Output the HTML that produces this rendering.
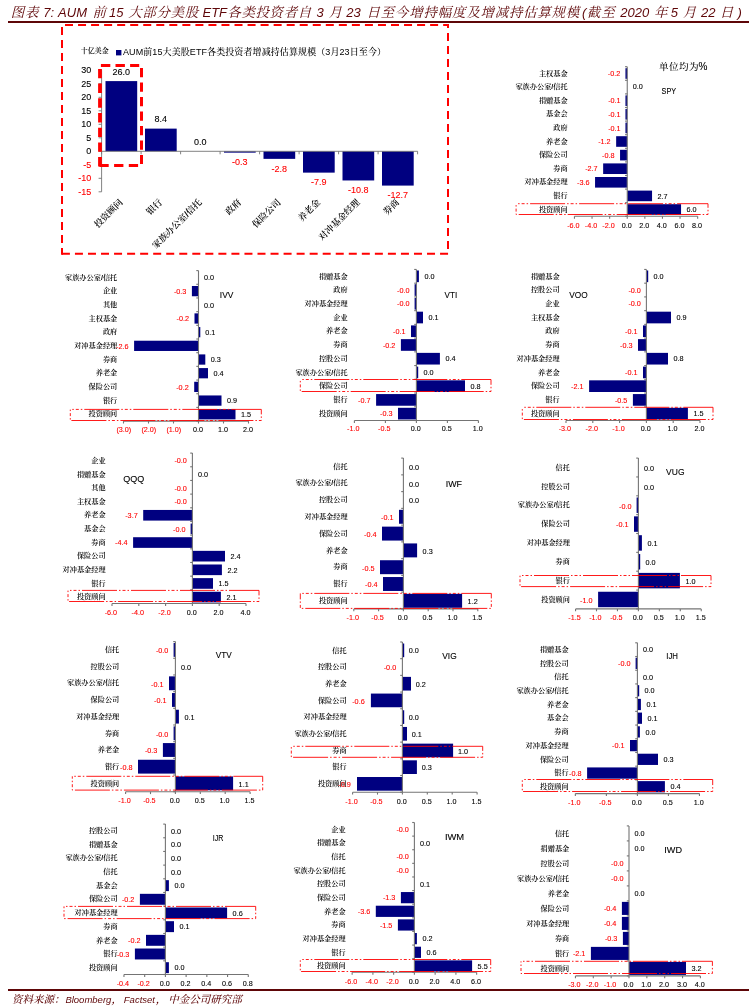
<!DOCTYPE html>
<html lang="zh-CN">
<head>
<meta charset="utf-8">
<title>图表 7</title>
<style>
html,body{margin:0;padding:0;background:#fff;}
body{width:753px;height:1008px;overflow:hidden;}
svg{display:block;}
text{white-space:pre;}
.l{font-family:"Liberation Sans","Noto Sans CJK SC",sans-serif;stroke-width:.1px;}
.c{font-family:"Liberation Sans","Noto Serif CJK SC",serif;font-weight:600;}
.tk{font-family:"Liberation Sans","Noto Sans CJK SC",sans-serif;}
.u{font-family:"Liberation Sans","Noto Serif CJK SC",serif;font-weight:500;}
.lg{font-family:"Liberation Sans","Noto Serif CJK SC",serif;font-weight:500;}
.tc{font-family:"Liberation Serif","Noto Serif CJK SC",serif;font-weight:400;}
.sc{font-family:"Liberation Serif","Noto Serif CJK SC",serif;font-weight:500;}
.tl{font-family:"Liberation Sans","Noto Serif CJK SC",sans-serif;}
</style>
</head>
<body>
<svg width="753" height="1008" viewBox="0 0 753 1008">
<rect x="0" y="0" width="753" height="1008" fill="#fff"/>
<g font-style="italic" fill="#5e0608">
<text x="10.7" y="16.8" font-size="13.5" class="tc" textLength="27.8" lengthAdjust="spacing">图表</text>
<text x="43.2" y="16.6" font-size="13" class="tl" >7:</text>
<text x="58.1" y="16.6" font-size="13" class="tl" >AUM</text>
<text x="92.6" y="16.8" font-size="13.5" class="tc" >前</text>
<text x="109" y="16.6" font-size="13" class="tl" >15</text>
<text x="128.2" y="16.8" font-size="13.5" class="tc" textLength="70" lengthAdjust="spacing">大部分美股</text>
<text x="202.5" y="16.6" font-size="13" class="tl" >ETF</text>
<text x="227.3" y="16.8" font-size="13.5" class="tc" textLength="84" lengthAdjust="spacing">各类投资者自</text>
<text x="316.4" y="16.6" font-size="13" class="tl" >3</text>
<text x="328.4" y="16.8" font-size="13.5" class="tc" >月</text>
<text x="346.3" y="16.6" font-size="13" class="tl" >23</text>
<text x="366.6" y="16.8" font-size="13.5" class="tc" textLength="212.7" lengthAdjust="spacing">日至今增持幅度及增减持估算规模</text>
<text x="581.9" y="16.6" font-size="13" class="tl" >(</text>
<text x="586.7" y="16.8" font-size="13.5" class="tc" textLength="28" lengthAdjust="spacing">截至</text>
<text x="620.3" y="16.6" font-size="13" class="tl" >2020</text>
<text x="653.9" y="16.8" font-size="13.5" class="tc" >年</text>
<text x="670.7" y="16.6" font-size="13" class="tl" >5</text>
<text x="682.8" y="16.8" font-size="13.5" class="tc" >月</text>
<text x="701" y="16.6" font-size="13" class="tl" >22</text>
<text x="719.8" y="16.8" font-size="13.5" class="tc" >日</text>
<text x="737.5" y="16.6" font-size="13" class="tl" >)</text>
</g>
<rect x="8" y="21" width="741" height="2" fill="#5e0608"/>
<g font-style="italic" fill="#5e0608">
<text x="12" y="1003" font-size="10.5" class="sc" >资料来源：</text>
<text x="65.4" y="1002.6" font-size="9.5" class="tl" >Bloomberg</text>
<text x="111.5" y="1003" font-size="10.5" class="sc" >，</text>
<text x="123.8" y="1002.6" font-size="9.5" class="tl" >Factset</text>
<text x="155.8" y="1003" font-size="10.5" class="sc" >，</text>
<text x="168.3" y="1003" font-size="10.5" class="sc" >中金公司研究部</text>
</g>
<rect x="8" y="989" width="741" height="2" fill="#5e0608"/>
<g>
<rect x="105.5" y="81.1" width="31.7" height="70.2" fill="#000080"/>
<rect x="145" y="128.62" width="31.7" height="22.68" fill="#000080"/>
<rect x="224" y="151.3" width="31.7" height="1.35" fill="#000080"/>
<rect x="263.5" y="151.3" width="31.7" height="7.56" fill="#000080"/>
<rect x="303" y="151.3" width="31.7" height="21.33" fill="#000080"/>
<rect x="342.5" y="151.3" width="31.7" height="29.16" fill="#000080"/>
<rect x="382" y="151.3" width="31.7" height="34.29" fill="#000080"/>
<line x1="101.6" y1="70.3" x2="101.6" y2="191.8" stroke="#747474" stroke-width="0.9"/>
<line x1="98.6" y1="191.8" x2="101.6" y2="191.8" stroke="#747474" stroke-width="0.9"/>
<text x="91.3" y="194.62" font-size="9" text-anchor="end" fill="#ff0000" stroke="#ff0000" class="l">-15</text>
<line x1="98.6" y1="178.3" x2="101.6" y2="178.3" stroke="#747474" stroke-width="0.9"/>
<text x="91.3" y="181.12" font-size="9" text-anchor="end" fill="#ff0000" stroke="#ff0000" class="l">-10</text>
<line x1="98.6" y1="164.8" x2="101.6" y2="164.8" stroke="#747474" stroke-width="0.9"/>
<text x="91.3" y="167.62" font-size="9" text-anchor="end" fill="#ff0000" stroke="#ff0000" class="l">-5</text>
<line x1="98.6" y1="151.3" x2="101.6" y2="151.3" stroke="#747474" stroke-width="0.9"/>
<text x="91.3" y="154.12" font-size="9" text-anchor="end" fill="#000" stroke="#000" class="l">0</text>
<line x1="98.6" y1="137.8" x2="101.6" y2="137.8" stroke="#747474" stroke-width="0.9"/>
<text x="91.3" y="140.62" font-size="9" text-anchor="end" fill="#000" stroke="#000" class="l">5</text>
<line x1="98.6" y1="124.3" x2="101.6" y2="124.3" stroke="#747474" stroke-width="0.9"/>
<text x="91.3" y="127.12" font-size="9" text-anchor="end" fill="#000" stroke="#000" class="l">10</text>
<line x1="98.6" y1="110.8" x2="101.6" y2="110.8" stroke="#747474" stroke-width="0.9"/>
<text x="91.3" y="113.62" font-size="9" text-anchor="end" fill="#000" stroke="#000" class="l">15</text>
<line x1="98.6" y1="97.3" x2="101.6" y2="97.3" stroke="#747474" stroke-width="0.9"/>
<text x="91.3" y="100.12" font-size="9" text-anchor="end" fill="#000" stroke="#000" class="l">20</text>
<line x1="98.6" y1="83.8" x2="101.6" y2="83.8" stroke="#747474" stroke-width="0.9"/>
<text x="91.3" y="86.62" font-size="9" text-anchor="end" fill="#000" stroke="#000" class="l">25</text>
<line x1="98.6" y1="70.3" x2="101.6" y2="70.3" stroke="#747474" stroke-width="0.9"/>
<text x="91.3" y="73.12" font-size="9" text-anchor="end" fill="#000" stroke="#000" class="l">30</text>
<line x1="101.6" y1="151.3" x2="417.6" y2="151.3" stroke="#747474" stroke-width="0.9"/>
<line x1="101.6" y1="151.3" x2="101.6" y2="154.3" stroke="#747474" stroke-width="0.9"/>
<line x1="141.1" y1="151.3" x2="141.1" y2="154.3" stroke="#747474" stroke-width="0.9"/>
<line x1="180.6" y1="151.3" x2="180.6" y2="154.3" stroke="#747474" stroke-width="0.9"/>
<line x1="220.1" y1="151.3" x2="220.1" y2="154.3" stroke="#747474" stroke-width="0.9"/>
<line x1="259.6" y1="151.3" x2="259.6" y2="154.3" stroke="#747474" stroke-width="0.9"/>
<line x1="299.1" y1="151.3" x2="299.1" y2="154.3" stroke="#747474" stroke-width="0.9"/>
<line x1="338.6" y1="151.3" x2="338.6" y2="154.3" stroke="#747474" stroke-width="0.9"/>
<line x1="378.1" y1="151.3" x2="378.1" y2="154.3" stroke="#747474" stroke-width="0.9"/>
<line x1="417.6" y1="151.3" x2="417.6" y2="154.3" stroke="#747474" stroke-width="0.9"/>
<text x="121.35" y="74.92" font-size="9" text-anchor="middle" fill="#000" stroke="#000" class="l">26.0</text>
<text transform="translate(123.35 202.8) rotate(-45)" x="0" y="0" font-size="9" text-anchor="end" class="c" fill="#000">投资顾问</text>
<text x="160.85" y="122.44" font-size="9" text-anchor="middle" fill="#000" stroke="#000" class="l">8.4</text>
<text transform="translate(162.85 202.8) rotate(-45)" x="0" y="0" font-size="9" text-anchor="end" class="c" fill="#000">银行</text>
<text x="200.35" y="145.12" font-size="9" text-anchor="middle" fill="#000" stroke="#000" class="l">0.0</text>
<text transform="translate(202.35 202.8) rotate(-45)" x="0" y="0" font-size="9" text-anchor="end" class="c" fill="#000">家族办公室/信托</text>
<text x="239.85" y="165.47" font-size="9" text-anchor="middle" fill="#ff0000" stroke="#ff0000" class="l">-0.3</text>
<text transform="translate(241.85 202.8) rotate(-45)" x="0" y="0" font-size="9" text-anchor="end" class="c" fill="#000">政府</text>
<text x="279.35" y="171.68" font-size="9" text-anchor="middle" fill="#ff0000" stroke="#ff0000" class="l">-2.8</text>
<text transform="translate(281.35 202.8) rotate(-45)" x="0" y="0" font-size="9" text-anchor="end" class="c" fill="#000">保险公司</text>
<text x="318.85" y="185.45" font-size="9" text-anchor="middle" fill="#ff0000" stroke="#ff0000" class="l">-7.9</text>
<text transform="translate(320.85 202.8) rotate(-45)" x="0" y="0" font-size="9" text-anchor="end" class="c" fill="#000">养老金</text>
<text x="358.35" y="193.28" font-size="9" text-anchor="middle" fill="#ff0000" stroke="#ff0000" class="l">-10.8</text>
<text transform="translate(360.35 202.8) rotate(-45)" x="0" y="0" font-size="9" text-anchor="end" class="c" fill="#000">对冲基金经理</text>
<text x="397.85" y="198.41" font-size="9" text-anchor="middle" fill="#ff0000" stroke="#ff0000" class="l">-12.7</text>
<text transform="translate(399.85 202.8) rotate(-45)" x="0" y="0" font-size="9" text-anchor="end" class="c" fill="#000">券商</text>
<text x="80.8" y="53.02" font-size="7" text-anchor="start" fill="#000" class="c">十亿美金</text>
<rect x="116" y="50" width="5.4" height="5.4" fill="#000080"/>
<text x="123" y="55.42" font-size="9" text-anchor="start" fill="#000" class="lg" textLength="263" lengthAdjust="spacing">AUM前15大美股ETF各类投资者增减持估算规模（3月23日至今）</text>
<line x1="100.9" y1="65.5" x2="139.2" y2="65.5" stroke="#ff0000" stroke-width="3" stroke-dasharray="9.4 5.2" stroke-dashoffset="0"/>
<line x1="141.5" y1="68.1" x2="141.5" y2="164" stroke="#ff0000" stroke-width="3" stroke-dasharray="9.2 5.3" stroke-dashoffset="0"/>
<line x1="100" y1="68.9" x2="100" y2="167" stroke="#ff0000" stroke-width="3.8" stroke-dasharray="9.4 5.3" stroke-dashoffset="0"/>
<line x1="98.1" y1="165.5" x2="138.2" y2="165.5" stroke="#ff0000" stroke-width="3" stroke-dasharray="9.3 5.4" stroke-dashoffset="13.4"/>
<line x1="65" y1="25" x2="449" y2="25" stroke="#ff0000" stroke-width="2" stroke-dasharray="8 5.04" stroke-dashoffset="0"/>
<line x1="448" y1="24" x2="448" y2="249.2" stroke="#ff0000" stroke-width="2" stroke-dasharray="8 5" stroke-dashoffset="4.1"/>
<line x1="61" y1="253.8" x2="448.4" y2="253.8" stroke="#ff0000" stroke-width="2" stroke-dasharray="8 5.04" stroke-dashoffset="12.14"/>
<line x1="62" y1="27" x2="62" y2="254.8" stroke="#ff0000" stroke-width="2" stroke-dasharray="8 5" stroke-dashoffset="0"/>
</g>
<text x="659" y="70.2" font-size="9.6" fill="#000" class="u"><tspan textLength="39.6" lengthAdjust="spacing">单位均为</tspan><tspan x="698.6" font-size="10" class="l" stroke="#000">%</tspan></text>
<g>
<rect x="625.45" y="68.2" width="1.8" height="10.61" fill="#000080"/>
<rect x="625.45" y="95.4" width="1.8" height="10.61" fill="#000080"/>
<rect x="625.45" y="109" width="1.8" height="10.61" fill="#000080"/>
<rect x="625.45" y="122.6" width="1.8" height="10.61" fill="#000080"/>
<rect x="616.15" y="136.2" width="11.1" height="10.61" fill="#000080"/>
<rect x="620.05" y="149.8" width="7.2" height="10.61" fill="#000080"/>
<rect x="603.15" y="163.4" width="24.1" height="10.61" fill="#000080"/>
<rect x="595.05" y="177" width="32.2" height="10.61" fill="#000080"/>
<rect x="627.25" y="190.6" width="24.8" height="10.61" fill="#000080"/>
<rect x="627.25" y="204.2" width="53.8" height="10.61" fill="#000080"/>
<line x1="627.25" y1="66.7" x2="627.25" y2="216.3" stroke="#747474" stroke-width="1.1"/>
<line x1="625.05" y1="66.7" x2="627.25" y2="66.7" stroke="#747474" stroke-width="1.1"/>
<line x1="625.05" y1="80.3" x2="627.25" y2="80.3" stroke="#747474" stroke-width="1.1"/>
<line x1="625.05" y1="93.9" x2="627.25" y2="93.9" stroke="#747474" stroke-width="1.1"/>
<line x1="625.05" y1="107.5" x2="627.25" y2="107.5" stroke="#747474" stroke-width="1.1"/>
<line x1="625.05" y1="121.1" x2="627.25" y2="121.1" stroke="#747474" stroke-width="1.1"/>
<line x1="625.05" y1="134.7" x2="627.25" y2="134.7" stroke="#747474" stroke-width="1.1"/>
<line x1="625.05" y1="148.3" x2="627.25" y2="148.3" stroke="#747474" stroke-width="1.1"/>
<line x1="625.05" y1="161.9" x2="627.25" y2="161.9" stroke="#747474" stroke-width="1.1"/>
<line x1="625.05" y1="175.5" x2="627.25" y2="175.5" stroke="#747474" stroke-width="1.1"/>
<line x1="625.05" y1="189.1" x2="627.25" y2="189.1" stroke="#747474" stroke-width="1.1"/>
<line x1="625.05" y1="202.7" x2="627.25" y2="202.7" stroke="#747474" stroke-width="1.1"/>
<line x1="625.05" y1="216.3" x2="627.25" y2="216.3" stroke="#747474" stroke-width="1.1"/>
<line x1="574.45" y1="216.3" x2="697.65" y2="216.3" stroke="#747474" stroke-width="1.1"/>
<line x1="574.45" y1="216.3" x2="574.45" y2="218.7" stroke="#747474" stroke-width="1.1"/>
<text x="573.35" y="227.98" font-size="7.2" text-anchor="middle" fill="#ff0000" stroke="#ff0000" class="l">-6.0</text>
<line x1="592.05" y1="216.3" x2="592.05" y2="218.7" stroke="#747474" stroke-width="1.1"/>
<text x="590.95" y="227.98" font-size="7.2" text-anchor="middle" fill="#ff0000" stroke="#ff0000" class="l">-4.0</text>
<line x1="609.65" y1="216.3" x2="609.65" y2="218.7" stroke="#747474" stroke-width="1.1"/>
<text x="608.55" y="227.98" font-size="7.2" text-anchor="middle" fill="#ff0000" stroke="#ff0000" class="l">-2.0</text>
<line x1="627.25" y1="216.3" x2="627.25" y2="218.7" stroke="#747474" stroke-width="1.1"/>
<text x="626.65" y="227.98" font-size="7.2" text-anchor="middle" fill="#000" stroke="#000" class="l">0.0</text>
<line x1="644.85" y1="216.3" x2="644.85" y2="218.7" stroke="#747474" stroke-width="1.1"/>
<text x="644.25" y="227.98" font-size="7.2" text-anchor="middle" fill="#000" stroke="#000" class="l">2.0</text>
<line x1="662.45" y1="216.3" x2="662.45" y2="218.7" stroke="#747474" stroke-width="1.1"/>
<text x="661.85" y="227.98" font-size="7.2" text-anchor="middle" fill="#000" stroke="#000" class="l">4.0</text>
<line x1="680.05" y1="216.3" x2="680.05" y2="218.7" stroke="#747474" stroke-width="1.1"/>
<text x="679.45" y="227.98" font-size="7.2" text-anchor="middle" fill="#000" stroke="#000" class="l">6.0</text>
<line x1="697.65" y1="216.3" x2="697.65" y2="218.7" stroke="#747474" stroke-width="1.1"/>
<text x="697.05" y="227.98" font-size="7.2" text-anchor="middle" fill="#000" stroke="#000" class="l">8.0</text>
<text x="567.7" y="75.69" font-size="7.2" text-anchor="end" fill="#000" class="c">主权基金</text>
<text x="620.35" y="76.2" font-size="7.25" text-anchor="end" fill="#ff0000" stroke="#ff0000" class="l">-0.2</text>
<text x="567.7" y="89.29" font-size="7.2" text-anchor="end" fill="#000" class="c">家族办公室/信托</text>
<text x="632.75" y="88.8" font-size="7.25" text-anchor="start" fill="#000" stroke="#000" class="l">0.0</text>
<text x="567.7" y="102.89" font-size="7.2" text-anchor="end" fill="#000" class="c">捐赠基金</text>
<text x="620.65" y="103.4" font-size="7.25" text-anchor="end" fill="#ff0000" stroke="#ff0000" class="l">-0.1</text>
<text x="567.7" y="116.49" font-size="7.2" text-anchor="end" fill="#000" class="c">基金会</text>
<text x="620.65" y="117" font-size="7.25" text-anchor="end" fill="#ff0000" stroke="#ff0000" class="l">-0.1</text>
<text x="567.7" y="130.09" font-size="7.2" text-anchor="end" fill="#000" class="c">政府</text>
<text x="620.65" y="130.6" font-size="7.25" text-anchor="end" fill="#ff0000" stroke="#ff0000" class="l">-0.1</text>
<text x="567.7" y="143.69" font-size="7.2" text-anchor="end" fill="#000" class="c">养老金</text>
<text x="610.65" y="144.2" font-size="7.25" text-anchor="end" fill="#ff0000" stroke="#ff0000" class="l">-1.2</text>
<text x="567.7" y="157.29" font-size="7.2" text-anchor="end" fill="#000" class="c">保险公司</text>
<text x="614.55" y="157.8" font-size="7.25" text-anchor="end" fill="#ff0000" stroke="#ff0000" class="l">-0.8</text>
<text x="567.7" y="170.89" font-size="7.2" text-anchor="end" fill="#000" class="c">券商</text>
<text x="597.65" y="171.4" font-size="7.25" text-anchor="end" fill="#ff0000" stroke="#ff0000" class="l">-2.7</text>
<text x="567.7" y="184.49" font-size="7.2" text-anchor="end" fill="#000" class="c">对冲基金经理</text>
<text x="589.55" y="185" font-size="7.25" text-anchor="end" fill="#ff0000" stroke="#ff0000" class="l">-3.6</text>
<text x="567.7" y="198.09" font-size="7.2" text-anchor="end" fill="#000" class="c">银行</text>
<text x="657.55" y="198.6" font-size="7.25" text-anchor="start" fill="#000" stroke="#000" class="l">2.7</text>
<text x="567.7" y="211.69" font-size="7.2" text-anchor="end" fill="#000" class="c">投资顾问</text>
<text x="686.55" y="212.2" font-size="7.25" text-anchor="start" fill="#000" stroke="#000" class="l">6.0</text>
<rect x="516.1" y="203.7" width="191.9" height="10.8" fill="none" stroke="#ff0000" stroke-width="0.9" stroke-dasharray="35 2 1.5 2 3 2 1.5 2" stroke-dashoffset="35"/>
<text x="661.6" y="93.94" font-size="8.5" text-anchor="start" fill="#000" stroke="#000" class="l" textLength="14.6" lengthAdjust="spacingAndGlyphs">SPY</text>
</g>
<g>
<rect x="191.9" y="285.99" width="6.6" height="10.26" fill="#000080"/>
<rect x="194.5" y="313.36" width="4" height="10.26" fill="#000080"/>
<rect x="198.5" y="327.04" width="1.8" height="10.26" fill="#000080"/>
<rect x="134.1" y="340.72" width="64.4" height="10.26" fill="#000080"/>
<rect x="198.5" y="354.4" width="6.8" height="10.26" fill="#000080"/>
<rect x="198.5" y="368.08" width="9.5" height="10.26" fill="#000080"/>
<rect x="194.2" y="381.76" width="4.3" height="10.26" fill="#000080"/>
<rect x="198.5" y="395.45" width="23" height="10.26" fill="#000080"/>
<rect x="198.5" y="409.13" width="37" height="10.26" fill="#000080"/>
<line x1="198.5" y1="270.6" x2="198.5" y2="421.1" stroke="#747474" stroke-width="1.1"/>
<line x1="196.3" y1="270.6" x2="198.5" y2="270.6" stroke="#747474" stroke-width="1.1"/>
<line x1="196.3" y1="284.28" x2="198.5" y2="284.28" stroke="#747474" stroke-width="1.1"/>
<line x1="196.3" y1="297.96" x2="198.5" y2="297.96" stroke="#747474" stroke-width="1.1"/>
<line x1="196.3" y1="311.65" x2="198.5" y2="311.65" stroke="#747474" stroke-width="1.1"/>
<line x1="196.3" y1="325.33" x2="198.5" y2="325.33" stroke="#747474" stroke-width="1.1"/>
<line x1="196.3" y1="339.01" x2="198.5" y2="339.01" stroke="#747474" stroke-width="1.1"/>
<line x1="196.3" y1="352.69" x2="198.5" y2="352.69" stroke="#747474" stroke-width="1.1"/>
<line x1="196.3" y1="366.37" x2="198.5" y2="366.37" stroke="#747474" stroke-width="1.1"/>
<line x1="196.3" y1="380.05" x2="198.5" y2="380.05" stroke="#747474" stroke-width="1.1"/>
<line x1="196.3" y1="393.74" x2="198.5" y2="393.74" stroke="#747474" stroke-width="1.1"/>
<line x1="196.3" y1="407.42" x2="198.5" y2="407.42" stroke="#747474" stroke-width="1.1"/>
<line x1="196.3" y1="421.1" x2="198.5" y2="421.1" stroke="#747474" stroke-width="1.1"/>
<line x1="123.5" y1="421.1" x2="248.5" y2="421.1" stroke="#747474" stroke-width="1.1"/>
<line x1="123.5" y1="421.1" x2="123.5" y2="423.5" stroke="#747474" stroke-width="1.1"/>
<text x="123.8" y="431.98" font-size="7.2" text-anchor="middle" fill="#ff0000" stroke="#ff0000" class="l">(3.0)</text>
<line x1="148.5" y1="421.1" x2="148.5" y2="423.5" stroke="#747474" stroke-width="1.1"/>
<text x="148.8" y="431.98" font-size="7.2" text-anchor="middle" fill="#ff0000" stroke="#ff0000" class="l">(2.0)</text>
<line x1="173.5" y1="421.1" x2="173.5" y2="423.5" stroke="#747474" stroke-width="1.1"/>
<text x="173.8" y="431.98" font-size="7.2" text-anchor="middle" fill="#ff0000" stroke="#ff0000" class="l">(1.0)</text>
<line x1="198.5" y1="421.1" x2="198.5" y2="423.5" stroke="#747474" stroke-width="1.1"/>
<text x="197.9" y="431.98" font-size="7.2" text-anchor="middle" fill="#000" stroke="#000" class="l">0.0</text>
<line x1="223.5" y1="421.1" x2="223.5" y2="423.5" stroke="#747474" stroke-width="1.1"/>
<text x="222.9" y="431.98" font-size="7.2" text-anchor="middle" fill="#000" stroke="#000" class="l">1.0</text>
<line x1="248.5" y1="421.1" x2="248.5" y2="423.5" stroke="#747474" stroke-width="1.1"/>
<text x="247.9" y="431.98" font-size="7.2" text-anchor="middle" fill="#000" stroke="#000" class="l">2.0</text>
<text x="117.3" y="279.63" font-size="7.2" text-anchor="end" fill="#000" class="c">家族办公室/信托</text>
<text x="204" y="280.14" font-size="7.25" text-anchor="start" fill="#000" stroke="#000" class="l">0.0</text>
<text x="117.3" y="293.31" font-size="7.2" text-anchor="end" fill="#000" class="c">企业</text>
<text x="186.4" y="293.82" font-size="7.25" text-anchor="end" fill="#ff0000" stroke="#ff0000" class="l">-0.3</text>
<text x="117.3" y="307" font-size="7.2" text-anchor="end" fill="#000" class="c">其他</text>
<text x="204" y="307.5" font-size="7.25" text-anchor="start" fill="#000" stroke="#000" class="l">0.0</text>
<text x="117.3" y="320.68" font-size="7.2" text-anchor="end" fill="#000" class="c">主权基金</text>
<text x="189" y="321.18" font-size="7.25" text-anchor="end" fill="#ff0000" stroke="#ff0000" class="l">-0.2</text>
<text x="117.3" y="334.36" font-size="7.2" text-anchor="end" fill="#000" class="c">政府</text>
<text x="205.3" y="334.86" font-size="7.25" text-anchor="start" fill="#000" stroke="#000" class="l">0.1</text>
<text x="117.3" y="348.04" font-size="7.2" text-anchor="end" fill="#000" class="c">对冲基金经理</text>
<text x="128.6" y="348.55" font-size="7.25" text-anchor="end" fill="#ff0000" stroke="#ff0000" class="l">-2.6</text>
<text x="117.3" y="361.72" font-size="7.2" text-anchor="end" fill="#000" class="c">券商</text>
<text x="210.8" y="362.23" font-size="7.25" text-anchor="start" fill="#000" stroke="#000" class="l">0.3</text>
<text x="117.3" y="375.41" font-size="7.2" text-anchor="end" fill="#000" class="c">养老金</text>
<text x="213.5" y="375.91" font-size="7.25" text-anchor="start" fill="#000" stroke="#000" class="l">0.4</text>
<text x="117.3" y="389.09" font-size="7.2" text-anchor="end" fill="#000" class="c">保险公司</text>
<text x="188.7" y="389.59" font-size="7.25" text-anchor="end" fill="#ff0000" stroke="#ff0000" class="l">-0.2</text>
<text x="117.3" y="402.77" font-size="7.2" text-anchor="end" fill="#000" class="c">银行</text>
<text x="227" y="403.27" font-size="7.25" text-anchor="start" fill="#000" stroke="#000" class="l">0.9</text>
<text x="117.3" y="416.45" font-size="7.2" text-anchor="end" fill="#000" class="c">投资顾问</text>
<text x="241" y="416.95" font-size="7.25" text-anchor="start" fill="#000" stroke="#000" class="l">1.5</text>
<rect x="70.3" y="409.4" width="191" height="11.1" fill="none" stroke="#ff0000" stroke-width="0.9" stroke-dasharray="35 2 1.5 2 3 2 1.5 2" stroke-dashoffset="35"/>
<text x="219.8" y="298.24" font-size="8.5" text-anchor="start" fill="#000" stroke="#000" class="l" textLength="13.6" lengthAdjust="spacingAndGlyphs">IVV</text>
</g>
<g>
<rect x="416.4" y="270.48" width="2.5" height="11.67" fill="#000080"/>
<rect x="414.6" y="284.21" width="1.8" height="11.67" fill="#000080"/>
<rect x="414.6" y="297.94" width="1.8" height="11.67" fill="#000080"/>
<rect x="416.4" y="311.68" width="6.6" height="11.67" fill="#000080"/>
<rect x="411" y="325.41" width="5.4" height="11.67" fill="#000080"/>
<rect x="400.9" y="339.14" width="15.5" height="11.67" fill="#000080"/>
<rect x="416.4" y="352.87" width="23.5" height="11.67" fill="#000080"/>
<rect x="416.4" y="366.6" width="1.8" height="11.67" fill="#000080"/>
<rect x="416.4" y="380.33" width="48.6" height="11.67" fill="#000080"/>
<rect x="376.1" y="394.07" width="40.3" height="11.67" fill="#000080"/>
<rect x="398" y="407.8" width="18.4" height="11.67" fill="#000080"/>
<line x1="416.4" y1="269.45" x2="416.4" y2="420.5" stroke="#747474" stroke-width="1.1"/>
<line x1="414.2" y1="269.45" x2="416.4" y2="269.45" stroke="#747474" stroke-width="1.1"/>
<line x1="414.2" y1="283.18" x2="416.4" y2="283.18" stroke="#747474" stroke-width="1.1"/>
<line x1="414.2" y1="296.91" x2="416.4" y2="296.91" stroke="#747474" stroke-width="1.1"/>
<line x1="414.2" y1="310.65" x2="416.4" y2="310.65" stroke="#747474" stroke-width="1.1"/>
<line x1="414.2" y1="324.38" x2="416.4" y2="324.38" stroke="#747474" stroke-width="1.1"/>
<line x1="414.2" y1="338.11" x2="416.4" y2="338.11" stroke="#747474" stroke-width="1.1"/>
<line x1="414.2" y1="351.84" x2="416.4" y2="351.84" stroke="#747474" stroke-width="1.1"/>
<line x1="414.2" y1="365.57" x2="416.4" y2="365.57" stroke="#747474" stroke-width="1.1"/>
<line x1="414.2" y1="379.3" x2="416.4" y2="379.3" stroke="#747474" stroke-width="1.1"/>
<line x1="414.2" y1="393.04" x2="416.4" y2="393.04" stroke="#747474" stroke-width="1.1"/>
<line x1="414.2" y1="406.77" x2="416.4" y2="406.77" stroke="#747474" stroke-width="1.1"/>
<line x1="414.2" y1="420.5" x2="416.4" y2="420.5" stroke="#747474" stroke-width="1.1"/>
<line x1="354.4" y1="420.5" x2="478.4" y2="420.5" stroke="#747474" stroke-width="1.1"/>
<line x1="354.4" y1="420.5" x2="354.4" y2="422.9" stroke="#747474" stroke-width="1.1"/>
<text x="353.3" y="431.28" font-size="7.2" text-anchor="middle" fill="#ff0000" stroke="#ff0000" class="l">-1.0</text>
<line x1="385.4" y1="420.5" x2="385.4" y2="422.9" stroke="#747474" stroke-width="1.1"/>
<text x="384.3" y="431.28" font-size="7.2" text-anchor="middle" fill="#ff0000" stroke="#ff0000" class="l">-0.5</text>
<line x1="416.4" y1="420.5" x2="416.4" y2="422.9" stroke="#747474" stroke-width="1.1"/>
<text x="415.8" y="431.28" font-size="7.2" text-anchor="middle" fill="#000" stroke="#000" class="l">0.0</text>
<line x1="447.4" y1="420.5" x2="447.4" y2="422.9" stroke="#747474" stroke-width="1.1"/>
<text x="446.8" y="431.28" font-size="7.2" text-anchor="middle" fill="#000" stroke="#000" class="l">0.5</text>
<line x1="478.4" y1="420.5" x2="478.4" y2="422.9" stroke="#747474" stroke-width="1.1"/>
<text x="477.8" y="431.28" font-size="7.2" text-anchor="middle" fill="#000" stroke="#000" class="l">1.0</text>
<text x="347.7" y="278.51" font-size="7.2" text-anchor="end" fill="#000" class="c">捐赠基金</text>
<text x="424.4" y="279.01" font-size="7.25" text-anchor="start" fill="#000" stroke="#000" class="l">0.0</text>
<text x="347.7" y="292.24" font-size="7.2" text-anchor="end" fill="#000" class="c">政府</text>
<text x="409.6" y="292.74" font-size="7.25" text-anchor="end" fill="#ff0000" stroke="#ff0000" class="l">-0.0</text>
<text x="347.7" y="305.97" font-size="7.2" text-anchor="end" fill="#000" class="c">对冲基金经理</text>
<text x="409.6" y="306.48" font-size="7.25" text-anchor="end" fill="#ff0000" stroke="#ff0000" class="l">-0.0</text>
<text x="347.7" y="319.7" font-size="7.2" text-anchor="end" fill="#000" class="c">企业</text>
<text x="428.5" y="320.21" font-size="7.25" text-anchor="start" fill="#000" stroke="#000" class="l">0.1</text>
<text x="347.7" y="333.44" font-size="7.2" text-anchor="end" fill="#000" class="c">养老金</text>
<text x="405.5" y="333.94" font-size="7.25" text-anchor="end" fill="#ff0000" stroke="#ff0000" class="l">-0.1</text>
<text x="347.7" y="347.17" font-size="7.2" text-anchor="end" fill="#000" class="c">券商</text>
<text x="395.4" y="347.67" font-size="7.25" text-anchor="end" fill="#ff0000" stroke="#ff0000" class="l">-0.2</text>
<text x="347.7" y="360.9" font-size="7.2" text-anchor="end" fill="#000" class="c">控股公司</text>
<text x="445.4" y="361.4" font-size="7.25" text-anchor="start" fill="#000" stroke="#000" class="l">0.4</text>
<text x="347.7" y="374.63" font-size="7.2" text-anchor="end" fill="#000" class="c">家族办公室/信托</text>
<text x="423.4" y="375.13" font-size="7.25" text-anchor="start" fill="#000" stroke="#000" class="l">0.0</text>
<text x="347.7" y="388.36" font-size="7.2" text-anchor="end" fill="#000" class="c">保险公司</text>
<text x="470.5" y="388.87" font-size="7.25" text-anchor="start" fill="#000" stroke="#000" class="l">0.8</text>
<text x="347.7" y="402.09" font-size="7.2" text-anchor="end" fill="#000" class="c">银行</text>
<text x="370.6" y="402.6" font-size="7.25" text-anchor="end" fill="#ff0000" stroke="#ff0000" class="l">-0.7</text>
<text x="347.7" y="415.83" font-size="7.2" text-anchor="end" fill="#000" class="c">投资顾问</text>
<text x="392.5" y="416.33" font-size="7.25" text-anchor="end" fill="#ff0000" stroke="#ff0000" class="l">-0.3</text>
<rect x="300.3" y="379.5" width="190.7" height="12" fill="none" stroke="#ff0000" stroke-width="0.9" stroke-dasharray="35 2 1.5 2 3 2 1.5 2" stroke-dashoffset="35"/>
<text x="444.6" y="297.94" font-size="8.5" text-anchor="start" fill="#000" stroke="#000" class="l" textLength="12.6" lengthAdjust="spacingAndGlyphs">VTI</text>
</g>
<g>
<rect x="646.4" y="270.48" width="1.8" height="11.67" fill="#000080"/>
<rect x="646.4" y="311.68" width="24.6" height="11.67" fill="#000080"/>
<rect x="643" y="325.41" width="3.4" height="11.67" fill="#000080"/>
<rect x="638" y="339.14" width="8.4" height="11.67" fill="#000080"/>
<rect x="646.4" y="352.87" width="21.6" height="11.67" fill="#000080"/>
<rect x="643" y="366.6" width="3.4" height="11.67" fill="#000080"/>
<rect x="589.1" y="380.33" width="57.3" height="11.67" fill="#000080"/>
<rect x="632.9" y="394.07" width="13.5" height="11.67" fill="#000080"/>
<rect x="646.4" y="407.8" width="41.5" height="11.67" fill="#000080"/>
<line x1="646.4" y1="269.45" x2="646.4" y2="420.5" stroke="#747474" stroke-width="1.1"/>
<line x1="644.2" y1="269.45" x2="646.4" y2="269.45" stroke="#747474" stroke-width="1.1"/>
<line x1="644.2" y1="283.18" x2="646.4" y2="283.18" stroke="#747474" stroke-width="1.1"/>
<line x1="644.2" y1="296.91" x2="646.4" y2="296.91" stroke="#747474" stroke-width="1.1"/>
<line x1="644.2" y1="310.65" x2="646.4" y2="310.65" stroke="#747474" stroke-width="1.1"/>
<line x1="644.2" y1="324.38" x2="646.4" y2="324.38" stroke="#747474" stroke-width="1.1"/>
<line x1="644.2" y1="338.11" x2="646.4" y2="338.11" stroke="#747474" stroke-width="1.1"/>
<line x1="644.2" y1="351.84" x2="646.4" y2="351.84" stroke="#747474" stroke-width="1.1"/>
<line x1="644.2" y1="365.57" x2="646.4" y2="365.57" stroke="#747474" stroke-width="1.1"/>
<line x1="644.2" y1="379.3" x2="646.4" y2="379.3" stroke="#747474" stroke-width="1.1"/>
<line x1="644.2" y1="393.04" x2="646.4" y2="393.04" stroke="#747474" stroke-width="1.1"/>
<line x1="644.2" y1="406.77" x2="646.4" y2="406.77" stroke="#747474" stroke-width="1.1"/>
<line x1="644.2" y1="420.5" x2="646.4" y2="420.5" stroke="#747474" stroke-width="1.1"/>
<line x1="566" y1="420.5" x2="700" y2="420.5" stroke="#747474" stroke-width="1.1"/>
<line x1="566" y1="420.5" x2="566" y2="422.9" stroke="#747474" stroke-width="1.1"/>
<text x="564.9" y="431.28" font-size="7.2" text-anchor="middle" fill="#ff0000" stroke="#ff0000" class="l">-3.0</text>
<line x1="592.8" y1="420.5" x2="592.8" y2="422.9" stroke="#747474" stroke-width="1.1"/>
<text x="591.7" y="431.28" font-size="7.2" text-anchor="middle" fill="#ff0000" stroke="#ff0000" class="l">-2.0</text>
<line x1="619.6" y1="420.5" x2="619.6" y2="422.9" stroke="#747474" stroke-width="1.1"/>
<text x="618.5" y="431.28" font-size="7.2" text-anchor="middle" fill="#ff0000" stroke="#ff0000" class="l">-1.0</text>
<line x1="646.4" y1="420.5" x2="646.4" y2="422.9" stroke="#747474" stroke-width="1.1"/>
<text x="645.8" y="431.28" font-size="7.2" text-anchor="middle" fill="#000" stroke="#000" class="l">0.0</text>
<line x1="673.2" y1="420.5" x2="673.2" y2="422.9" stroke="#747474" stroke-width="1.1"/>
<text x="672.6" y="431.28" font-size="7.2" text-anchor="middle" fill="#000" stroke="#000" class="l">1.0</text>
<line x1="700" y1="420.5" x2="700" y2="422.9" stroke="#747474" stroke-width="1.1"/>
<text x="699.4" y="431.28" font-size="7.2" text-anchor="middle" fill="#000" stroke="#000" class="l">2.0</text>
<text x="559.7" y="278.51" font-size="7.2" text-anchor="end" fill="#000" class="c">捐赠基金</text>
<text x="653.4" y="279.01" font-size="7.25" text-anchor="start" fill="#000" stroke="#000" class="l">0.0</text>
<text x="559.7" y="292.24" font-size="7.2" text-anchor="end" fill="#000" class="c">控股公司</text>
<text x="640.9" y="292.74" font-size="7.25" text-anchor="end" fill="#ff0000" stroke="#ff0000" class="l">-0.0</text>
<text x="559.7" y="305.97" font-size="7.2" text-anchor="end" fill="#000" class="c">企业</text>
<text x="640.9" y="306.48" font-size="7.25" text-anchor="end" fill="#ff0000" stroke="#ff0000" class="l">-0.0</text>
<text x="559.7" y="319.7" font-size="7.2" text-anchor="end" fill="#000" class="c">主权基金</text>
<text x="676.5" y="320.21" font-size="7.25" text-anchor="start" fill="#000" stroke="#000" class="l">0.9</text>
<text x="559.7" y="333.44" font-size="7.2" text-anchor="end" fill="#000" class="c">政府</text>
<text x="637.5" y="333.94" font-size="7.25" text-anchor="end" fill="#ff0000" stroke="#ff0000" class="l">-0.1</text>
<text x="559.7" y="347.17" font-size="7.2" text-anchor="end" fill="#000" class="c">券商</text>
<text x="632.5" y="347.67" font-size="7.25" text-anchor="end" fill="#ff0000" stroke="#ff0000" class="l">-0.3</text>
<text x="559.7" y="360.9" font-size="7.2" text-anchor="end" fill="#000" class="c">对冲基金经理</text>
<text x="673.5" y="361.4" font-size="7.25" text-anchor="start" fill="#000" stroke="#000" class="l">0.8</text>
<text x="559.7" y="374.63" font-size="7.2" text-anchor="end" fill="#000" class="c">养老金</text>
<text x="637.5" y="375.13" font-size="7.25" text-anchor="end" fill="#ff0000" stroke="#ff0000" class="l">-0.1</text>
<text x="559.7" y="388.36" font-size="7.2" text-anchor="end" fill="#000" class="c">保险公司</text>
<text x="583.6" y="388.87" font-size="7.25" text-anchor="end" fill="#ff0000" stroke="#ff0000" class="l">-2.1</text>
<text x="559.7" y="402.09" font-size="7.2" text-anchor="end" fill="#000" class="c">银行</text>
<text x="627.4" y="402.6" font-size="7.25" text-anchor="end" fill="#ff0000" stroke="#ff0000" class="l">-0.5</text>
<text x="559.7" y="415.83" font-size="7.2" text-anchor="end" fill="#000" class="c">投资顾问</text>
<text x="693.4" y="416.33" font-size="7.25" text-anchor="start" fill="#000" stroke="#000" class="l">1.5</text>
<rect x="522.3" y="407.3" width="190.7" height="12.2" fill="none" stroke="#ff0000" stroke-width="0.9" stroke-dasharray="35 2 1.5 2 3 2 1.5 2" stroke-dashoffset="35"/>
<text x="569.3" y="297.94" font-size="8.5" text-anchor="start" fill="#000" stroke="#000" class="l" textLength="18.4" lengthAdjust="spacingAndGlyphs">VOO</text>
</g>
<g>
<rect x="143.2" y="509.95" width="49.2" height="10.64" fill="#000080"/>
<rect x="190.6" y="523.58" width="1.8" height="10.64" fill="#000080"/>
<rect x="133.1" y="537.22" width="59.3" height="10.64" fill="#000080"/>
<rect x="192.4" y="550.85" width="32.6" height="10.64" fill="#000080"/>
<rect x="192.4" y="564.49" width="29.5" height="10.64" fill="#000080"/>
<rect x="192.4" y="578.13" width="20.6" height="10.64" fill="#000080"/>
<rect x="192.4" y="591.76" width="28.5" height="10.64" fill="#000080"/>
<line x1="192.4" y1="453.1" x2="192.4" y2="603.5" stroke="#747474" stroke-width="1.1"/>
<line x1="190.2" y1="453.1" x2="192.4" y2="453.1" stroke="#747474" stroke-width="1.1"/>
<line x1="190.2" y1="466.77" x2="192.4" y2="466.77" stroke="#747474" stroke-width="1.1"/>
<line x1="190.2" y1="480.45" x2="192.4" y2="480.45" stroke="#747474" stroke-width="1.1"/>
<line x1="190.2" y1="494.12" x2="192.4" y2="494.12" stroke="#747474" stroke-width="1.1"/>
<line x1="190.2" y1="507.79" x2="192.4" y2="507.79" stroke="#747474" stroke-width="1.1"/>
<line x1="190.2" y1="521.46" x2="192.4" y2="521.46" stroke="#747474" stroke-width="1.1"/>
<line x1="190.2" y1="535.14" x2="192.4" y2="535.14" stroke="#747474" stroke-width="1.1"/>
<line x1="190.2" y1="548.81" x2="192.4" y2="548.81" stroke="#747474" stroke-width="1.1"/>
<line x1="190.2" y1="562.48" x2="192.4" y2="562.48" stroke="#747474" stroke-width="1.1"/>
<line x1="190.2" y1="576.15" x2="192.4" y2="576.15" stroke="#747474" stroke-width="1.1"/>
<line x1="190.2" y1="589.83" x2="192.4" y2="589.83" stroke="#747474" stroke-width="1.1"/>
<line x1="190.2" y1="603.5" x2="192.4" y2="603.5" stroke="#747474" stroke-width="1.1"/>
<line x1="112" y1="603.5" x2="246" y2="603.5" stroke="#747474" stroke-width="1.1"/>
<line x1="112" y1="603.5" x2="112" y2="605.9" stroke="#747474" stroke-width="1.1"/>
<text x="110.9" y="615.18" font-size="7.2" text-anchor="middle" fill="#ff0000" stroke="#ff0000" class="l">-6.0</text>
<line x1="138.8" y1="603.5" x2="138.8" y2="605.9" stroke="#747474" stroke-width="1.1"/>
<text x="137.7" y="615.18" font-size="7.2" text-anchor="middle" fill="#ff0000" stroke="#ff0000" class="l">-4.0</text>
<line x1="165.6" y1="603.5" x2="165.6" y2="605.9" stroke="#747474" stroke-width="1.1"/>
<text x="164.5" y="615.18" font-size="7.2" text-anchor="middle" fill="#ff0000" stroke="#ff0000" class="l">-2.0</text>
<line x1="192.4" y1="603.5" x2="192.4" y2="605.9" stroke="#747474" stroke-width="1.1"/>
<text x="191.8" y="615.18" font-size="7.2" text-anchor="middle" fill="#000" stroke="#000" class="l">0.0</text>
<line x1="219.2" y1="603.5" x2="219.2" y2="605.9" stroke="#747474" stroke-width="1.1"/>
<text x="218.6" y="615.18" font-size="7.2" text-anchor="middle" fill="#000" stroke="#000" class="l">2.0</text>
<line x1="246" y1="603.5" x2="246" y2="605.9" stroke="#747474" stroke-width="1.1"/>
<text x="245.4" y="615.18" font-size="7.2" text-anchor="middle" fill="#000" stroke="#000" class="l">4.0</text>
<text x="105.7" y="462.91" font-size="7.2" text-anchor="end" fill="#000" class="c">企业</text>
<text x="186.9" y="463.41" font-size="7.25" text-anchor="end" fill="#ff0000" stroke="#ff0000" class="l">-0.0</text>
<text x="105.7" y="476.55" font-size="7.2" text-anchor="end" fill="#000" class="c">捐赠基金</text>
<text x="197.9" y="477.05" font-size="7.25" text-anchor="start" fill="#000" stroke="#000" class="l">0.0</text>
<text x="105.7" y="490.18" font-size="7.2" text-anchor="end" fill="#000" class="c">其他</text>
<text x="186.9" y="490.69" font-size="7.25" text-anchor="end" fill="#ff0000" stroke="#ff0000" class="l">-0.0</text>
<text x="105.7" y="503.82" font-size="7.2" text-anchor="end" fill="#000" class="c">主权基金</text>
<text x="186.9" y="504.32" font-size="7.25" text-anchor="end" fill="#ff0000" stroke="#ff0000" class="l">-0.0</text>
<text x="105.7" y="517.46" font-size="7.2" text-anchor="end" fill="#000" class="c">养老金</text>
<text x="137.7" y="517.96" font-size="7.25" text-anchor="end" fill="#ff0000" stroke="#ff0000" class="l">-3.7</text>
<text x="105.7" y="531.09" font-size="7.2" text-anchor="end" fill="#000" class="c">基金会</text>
<text x="185.6" y="531.6" font-size="7.25" text-anchor="end" fill="#ff0000" stroke="#ff0000" class="l">-0.0</text>
<text x="105.7" y="544.73" font-size="7.2" text-anchor="end" fill="#000" class="c">券商</text>
<text x="127.6" y="545.23" font-size="7.25" text-anchor="end" fill="#ff0000" stroke="#ff0000" class="l">-4.4</text>
<text x="105.7" y="558.36" font-size="7.2" text-anchor="end" fill="#000" class="c">保险公司</text>
<text x="230.5" y="558.87" font-size="7.25" text-anchor="start" fill="#000" stroke="#000" class="l">2.4</text>
<text x="105.7" y="572" font-size="7.2" text-anchor="end" fill="#000" class="c">对冲基金经理</text>
<text x="227.4" y="572.5" font-size="7.25" text-anchor="start" fill="#000" stroke="#000" class="l">2.2</text>
<text x="105.7" y="585.64" font-size="7.2" text-anchor="end" fill="#000" class="c">银行</text>
<text x="218.5" y="586.14" font-size="7.25" text-anchor="start" fill="#000" stroke="#000" class="l">1.5</text>
<text x="105.7" y="599.27" font-size="7.2" text-anchor="end" fill="#000" class="c">投资顾问</text>
<text x="226.4" y="599.78" font-size="7.25" text-anchor="start" fill="#000" stroke="#000" class="l">2.1</text>
<rect x="68" y="590.4" width="191" height="11.1" fill="none" stroke="#ff0000" stroke-width="0.9" stroke-dasharray="35 2 1.5 2 3 2 1.5 2" stroke-dashoffset="35"/>
<text x="123.3" y="482.04" font-size="8.5" text-anchor="start" fill="#000" stroke="#000" class="l" textLength="21" lengthAdjust="spacingAndGlyphs">QQQ</text>
</g>
<g>
<rect x="399" y="509.83" width="4.4" height="13.94" fill="#000080"/>
<rect x="382" y="526.63" width="21.4" height="13.94" fill="#000080"/>
<rect x="403.4" y="543.43" width="13.7" height="13.94" fill="#000080"/>
<rect x="380" y="560.23" width="23.4" height="13.94" fill="#000080"/>
<rect x="383" y="577.03" width="20.4" height="13.94" fill="#000080"/>
<rect x="403.4" y="593.83" width="58.7" height="13.94" fill="#000080"/>
<line x1="403.4" y1="458.1" x2="403.4" y2="608.9" stroke="#747474" stroke-width="1.1"/>
<line x1="401.2" y1="458.1" x2="403.4" y2="458.1" stroke="#747474" stroke-width="1.1"/>
<line x1="401.2" y1="474.86" x2="403.4" y2="474.86" stroke="#747474" stroke-width="1.1"/>
<line x1="401.2" y1="491.61" x2="403.4" y2="491.61" stroke="#747474" stroke-width="1.1"/>
<line x1="401.2" y1="508.37" x2="403.4" y2="508.37" stroke="#747474" stroke-width="1.1"/>
<line x1="401.2" y1="525.12" x2="403.4" y2="525.12" stroke="#747474" stroke-width="1.1"/>
<line x1="401.2" y1="541.88" x2="403.4" y2="541.88" stroke="#747474" stroke-width="1.1"/>
<line x1="401.2" y1="558.63" x2="403.4" y2="558.63" stroke="#747474" stroke-width="1.1"/>
<line x1="401.2" y1="575.39" x2="403.4" y2="575.39" stroke="#747474" stroke-width="1.1"/>
<line x1="401.2" y1="592.14" x2="403.4" y2="592.14" stroke="#747474" stroke-width="1.1"/>
<line x1="401.2" y1="608.9" x2="403.4" y2="608.9" stroke="#747474" stroke-width="1.1"/>
<line x1="353.8" y1="608.9" x2="477.8" y2="608.9" stroke="#747474" stroke-width="1.1"/>
<line x1="353.8" y1="608.9" x2="353.8" y2="611.3" stroke="#747474" stroke-width="1.1"/>
<text x="352.7" y="620.48" font-size="7.2" text-anchor="middle" fill="#ff0000" stroke="#ff0000" class="l">-1.0</text>
<line x1="378.6" y1="608.9" x2="378.6" y2="611.3" stroke="#747474" stroke-width="1.1"/>
<text x="377.5" y="620.48" font-size="7.2" text-anchor="middle" fill="#ff0000" stroke="#ff0000" class="l">-0.5</text>
<line x1="403.4" y1="608.9" x2="403.4" y2="611.3" stroke="#747474" stroke-width="1.1"/>
<text x="402.8" y="620.48" font-size="7.2" text-anchor="middle" fill="#000" stroke="#000" class="l">0.0</text>
<line x1="428.2" y1="608.9" x2="428.2" y2="611.3" stroke="#747474" stroke-width="1.1"/>
<text x="427.6" y="620.48" font-size="7.2" text-anchor="middle" fill="#000" stroke="#000" class="l">0.5</text>
<line x1="453" y1="608.9" x2="453" y2="611.3" stroke="#747474" stroke-width="1.1"/>
<text x="452.4" y="620.48" font-size="7.2" text-anchor="middle" fill="#000" stroke="#000" class="l">1.0</text>
<line x1="477.8" y1="608.9" x2="477.8" y2="611.3" stroke="#747474" stroke-width="1.1"/>
<text x="477.2" y="620.48" font-size="7.2" text-anchor="middle" fill="#000" stroke="#000" class="l">1.5</text>
<text x="347.7" y="468.59" font-size="7.2" text-anchor="end" fill="#000" class="c">信托</text>
<text x="408.9" y="469.7" font-size="7.25" text-anchor="start" fill="#000" stroke="#000" class="l">0.0</text>
<text x="347.7" y="485.39" font-size="7.2" text-anchor="end" fill="#000" class="c">家族办公室/信托</text>
<text x="408.9" y="486.5" font-size="7.25" text-anchor="start" fill="#000" stroke="#000" class="l">0.0</text>
<text x="347.7" y="502.19" font-size="7.2" text-anchor="end" fill="#000" class="c">控股公司</text>
<text x="408.9" y="503.3" font-size="7.25" text-anchor="start" fill="#000" stroke="#000" class="l">0.0</text>
<text x="347.7" y="518.99" font-size="7.2" text-anchor="end" fill="#000" class="c">对冲基金经理</text>
<text x="393.5" y="520.1" font-size="7.25" text-anchor="end" fill="#ff0000" stroke="#ff0000" class="l">-0.1</text>
<text x="347.7" y="535.79" font-size="7.2" text-anchor="end" fill="#000" class="c">保险公司</text>
<text x="376.5" y="536.9" font-size="7.25" text-anchor="end" fill="#ff0000" stroke="#ff0000" class="l">-0.4</text>
<text x="347.7" y="552.59" font-size="7.2" text-anchor="end" fill="#000" class="c">养老金</text>
<text x="422.6" y="553.7" font-size="7.25" text-anchor="start" fill="#000" stroke="#000" class="l">0.3</text>
<text x="347.7" y="569.39" font-size="7.2" text-anchor="end" fill="#000" class="c">券商</text>
<text x="374.5" y="570.5" font-size="7.25" text-anchor="end" fill="#ff0000" stroke="#ff0000" class="l">-0.5</text>
<text x="347.7" y="586.19" font-size="7.2" text-anchor="end" fill="#000" class="c">银行</text>
<text x="377.5" y="587.3" font-size="7.25" text-anchor="end" fill="#ff0000" stroke="#ff0000" class="l">-0.4</text>
<text x="347.7" y="602.99" font-size="7.2" text-anchor="end" fill="#000" class="c">投资顾问</text>
<text x="467.6" y="604.1" font-size="7.25" text-anchor="start" fill="#000" stroke="#000" class="l">1.2</text>
<rect x="300.3" y="593.4" width="191" height="15" fill="none" stroke="#ff0000" stroke-width="0.9" stroke-dasharray="35 2 1.5 2 3 2 1.5 2" stroke-dashoffset="35"/>
<text x="445.7" y="487.04" font-size="8.5" text-anchor="start" fill="#000" stroke="#000" class="l" textLength="16.3" lengthAdjust="spacingAndGlyphs">IWF</text>
</g>
<g>
<rect x="636.6" y="497.5" width="1.8" height="15.46" fill="#000080"/>
<rect x="634" y="516.35" width="4.4" height="15.46" fill="#000080"/>
<rect x="638.4" y="535.2" width="3.5" height="15.46" fill="#000080"/>
<rect x="638.4" y="554.05" width="1.8" height="15.46" fill="#000080"/>
<rect x="638.4" y="572.9" width="41.5" height="15.46" fill="#000080"/>
<rect x="598.1" y="591.75" width="40.3" height="15.46" fill="#000080"/>
<line x1="638.4" y1="458.1" x2="638.4" y2="608.9" stroke="#747474" stroke-width="1.1"/>
<line x1="636.2" y1="458.1" x2="638.4" y2="458.1" stroke="#747474" stroke-width="1.1"/>
<line x1="636.2" y1="476.95" x2="638.4" y2="476.95" stroke="#747474" stroke-width="1.1"/>
<line x1="636.2" y1="495.8" x2="638.4" y2="495.8" stroke="#747474" stroke-width="1.1"/>
<line x1="636.2" y1="514.65" x2="638.4" y2="514.65" stroke="#747474" stroke-width="1.1"/>
<line x1="636.2" y1="533.5" x2="638.4" y2="533.5" stroke="#747474" stroke-width="1.1"/>
<line x1="636.2" y1="552.35" x2="638.4" y2="552.35" stroke="#747474" stroke-width="1.1"/>
<line x1="636.2" y1="571.2" x2="638.4" y2="571.2" stroke="#747474" stroke-width="1.1"/>
<line x1="636.2" y1="590.05" x2="638.4" y2="590.05" stroke="#747474" stroke-width="1.1"/>
<line x1="636.2" y1="608.9" x2="638.4" y2="608.9" stroke="#747474" stroke-width="1.1"/>
<line x1="575.55" y1="608.9" x2="701.25" y2="608.9" stroke="#747474" stroke-width="1.1"/>
<line x1="575.55" y1="608.9" x2="575.55" y2="611.3" stroke="#747474" stroke-width="1.1"/>
<text x="574.45" y="620.48" font-size="7.2" text-anchor="middle" fill="#ff0000" stroke="#ff0000" class="l">-1.5</text>
<line x1="596.5" y1="608.9" x2="596.5" y2="611.3" stroke="#747474" stroke-width="1.1"/>
<text x="595.4" y="620.48" font-size="7.2" text-anchor="middle" fill="#ff0000" stroke="#ff0000" class="l">-1.0</text>
<line x1="617.45" y1="608.9" x2="617.45" y2="611.3" stroke="#747474" stroke-width="1.1"/>
<text x="616.35" y="620.48" font-size="7.2" text-anchor="middle" fill="#ff0000" stroke="#ff0000" class="l">-0.5</text>
<line x1="638.4" y1="608.9" x2="638.4" y2="611.3" stroke="#747474" stroke-width="1.1"/>
<text x="637.8" y="620.48" font-size="7.2" text-anchor="middle" fill="#000" stroke="#000" class="l">0.0</text>
<line x1="659.35" y1="608.9" x2="659.35" y2="611.3" stroke="#747474" stroke-width="1.1"/>
<text x="658.75" y="620.48" font-size="7.2" text-anchor="middle" fill="#000" stroke="#000" class="l">0.5</text>
<line x1="680.3" y1="608.9" x2="680.3" y2="611.3" stroke="#747474" stroke-width="1.1"/>
<text x="679.7" y="620.48" font-size="7.2" text-anchor="middle" fill="#000" stroke="#000" class="l">1.0</text>
<line x1="701.25" y1="608.9" x2="701.25" y2="611.3" stroke="#747474" stroke-width="1.1"/>
<text x="700.65" y="620.48" font-size="7.2" text-anchor="middle" fill="#000" stroke="#000" class="l">1.5</text>
<text x="570" y="469.72" font-size="7.2" text-anchor="end" fill="#000" class="c">信托</text>
<text x="643.9" y="470.82" font-size="7.25" text-anchor="start" fill="#000" stroke="#000" class="l">0.0</text>
<text x="570" y="488.57" font-size="7.2" text-anchor="end" fill="#000" class="c">控股公司</text>
<text x="643.9" y="489.67" font-size="7.25" text-anchor="start" fill="#000" stroke="#000" class="l">0.0</text>
<text x="570" y="507.42" font-size="7.2" text-anchor="end" fill="#000" class="c">家族办公室/信托</text>
<text x="631.6" y="508.52" font-size="7.25" text-anchor="end" fill="#ff0000" stroke="#ff0000" class="l">-0.0</text>
<text x="570" y="526.27" font-size="7.2" text-anchor="end" fill="#000" class="c">保险公司</text>
<text x="628.5" y="527.37" font-size="7.25" text-anchor="end" fill="#ff0000" stroke="#ff0000" class="l">-0.1</text>
<text x="570" y="545.12" font-size="7.2" text-anchor="end" fill="#000" class="c">对冲基金经理</text>
<text x="647.4" y="546.22" font-size="7.25" text-anchor="start" fill="#000" stroke="#000" class="l">0.1</text>
<text x="570" y="563.97" font-size="7.2" text-anchor="end" fill="#000" class="c">券商</text>
<text x="645.4" y="565.07" font-size="7.25" text-anchor="start" fill="#000" stroke="#000" class="l">0.0</text>
<text x="570" y="582.82" font-size="7.2" text-anchor="end" fill="#000" class="c">银行</text>
<text x="685.4" y="583.92" font-size="7.25" text-anchor="start" fill="#000" stroke="#000" class="l">1.0</text>
<text x="570" y="601.67" font-size="7.2" text-anchor="end" fill="#000" class="c">投资顾问</text>
<text x="592.6" y="602.77" font-size="7.25" text-anchor="end" fill="#ff0000" stroke="#ff0000" class="l">-1.0</text>
<rect x="520" y="575.5" width="191" height="11.1" fill="none" stroke="#ff0000" stroke-width="0.9" stroke-dasharray="35 2 1.5 2 3 2 1.5 2" stroke-dashoffset="35"/>
<text x="666.1" y="474.94" font-size="8.5" text-anchor="start" fill="#000" stroke="#000" class="l" textLength="18.4" lengthAdjust="spacingAndGlyphs">VUG</text>
</g>
<g>
<rect x="173.6" y="643.02" width="1.8" height="13.84" fill="#000080"/>
<rect x="169" y="676.37" width="6.4" height="13.84" fill="#000080"/>
<rect x="172" y="693.05" width="3.4" height="13.84" fill="#000080"/>
<rect x="175.4" y="709.73" width="3.5" height="13.84" fill="#000080"/>
<rect x="173.6" y="726.41" width="1.8" height="13.84" fill="#000080"/>
<rect x="162.9" y="743.08" width="12.5" height="13.84" fill="#000080"/>
<rect x="138" y="759.76" width="37.4" height="13.84" fill="#000080"/>
<rect x="175.4" y="776.44" width="57.7" height="13.84" fill="#000080"/>
<line x1="175.4" y1="641.6" x2="175.4" y2="791.7" stroke="#747474" stroke-width="1.1"/>
<line x1="173.2" y1="641.6" x2="175.4" y2="641.6" stroke="#747474" stroke-width="1.1"/>
<line x1="173.2" y1="658.28" x2="175.4" y2="658.28" stroke="#747474" stroke-width="1.1"/>
<line x1="173.2" y1="674.96" x2="175.4" y2="674.96" stroke="#747474" stroke-width="1.1"/>
<line x1="173.2" y1="691.63" x2="175.4" y2="691.63" stroke="#747474" stroke-width="1.1"/>
<line x1="173.2" y1="708.31" x2="175.4" y2="708.31" stroke="#747474" stroke-width="1.1"/>
<line x1="173.2" y1="724.99" x2="175.4" y2="724.99" stroke="#747474" stroke-width="1.1"/>
<line x1="173.2" y1="741.67" x2="175.4" y2="741.67" stroke="#747474" stroke-width="1.1"/>
<line x1="173.2" y1="758.34" x2="175.4" y2="758.34" stroke="#747474" stroke-width="1.1"/>
<line x1="173.2" y1="775.02" x2="175.4" y2="775.02" stroke="#747474" stroke-width="1.1"/>
<line x1="173.2" y1="791.7" x2="175.4" y2="791.7" stroke="#747474" stroke-width="1.1"/>
<line x1="125.6" y1="791.7" x2="250.1" y2="791.7" stroke="#747474" stroke-width="1.1"/>
<line x1="125.6" y1="791.7" x2="125.6" y2="794.1" stroke="#747474" stroke-width="1.1"/>
<text x="124.5" y="803.48" font-size="7.2" text-anchor="middle" fill="#ff0000" stroke="#ff0000" class="l">-1.0</text>
<line x1="150.5" y1="791.7" x2="150.5" y2="794.1" stroke="#747474" stroke-width="1.1"/>
<text x="149.4" y="803.48" font-size="7.2" text-anchor="middle" fill="#ff0000" stroke="#ff0000" class="l">-0.5</text>
<line x1="175.4" y1="791.7" x2="175.4" y2="794.1" stroke="#747474" stroke-width="1.1"/>
<text x="174.8" y="803.48" font-size="7.2" text-anchor="middle" fill="#000" stroke="#000" class="l">0.0</text>
<line x1="200.3" y1="791.7" x2="200.3" y2="794.1" stroke="#747474" stroke-width="1.1"/>
<text x="199.7" y="803.48" font-size="7.2" text-anchor="middle" fill="#000" stroke="#000" class="l">0.5</text>
<line x1="225.2" y1="791.7" x2="225.2" y2="794.1" stroke="#747474" stroke-width="1.1"/>
<text x="224.6" y="803.48" font-size="7.2" text-anchor="middle" fill="#000" stroke="#000" class="l">1.0</text>
<line x1="250.1" y1="791.7" x2="250.1" y2="794.1" stroke="#747474" stroke-width="1.1"/>
<text x="249.5" y="803.48" font-size="7.2" text-anchor="middle" fill="#000" stroke="#000" class="l">1.5</text>
<text x="119.3" y="652.13" font-size="7.2" text-anchor="end" fill="#000" class="c">信托</text>
<text x="168.4" y="653.23" font-size="7.25" text-anchor="end" fill="#ff0000" stroke="#ff0000" class="l">-0.0</text>
<text x="119.3" y="668.81" font-size="7.2" text-anchor="end" fill="#000" class="c">控股公司</text>
<text x="180.9" y="669.91" font-size="7.25" text-anchor="start" fill="#000" stroke="#000" class="l">0.0</text>
<text x="119.3" y="685.49" font-size="7.2" text-anchor="end" fill="#000" class="c">家族办公室/信托</text>
<text x="163.5" y="686.59" font-size="7.25" text-anchor="end" fill="#ff0000" stroke="#ff0000" class="l">-0.1</text>
<text x="119.3" y="702.16" font-size="7.2" text-anchor="end" fill="#000" class="c">保险公司</text>
<text x="166.5" y="703.27" font-size="7.25" text-anchor="end" fill="#ff0000" stroke="#ff0000" class="l">-0.1</text>
<text x="119.3" y="718.84" font-size="7.2" text-anchor="end" fill="#000" class="c">对冲基金经理</text>
<text x="184.4" y="719.95" font-size="7.25" text-anchor="start" fill="#000" stroke="#000" class="l">0.1</text>
<text x="119.3" y="735.52" font-size="7.2" text-anchor="end" fill="#000" class="c">券商</text>
<text x="168.4" y="736.62" font-size="7.25" text-anchor="end" fill="#ff0000" stroke="#ff0000" class="l">-0.0</text>
<text x="119.3" y="752.2" font-size="7.2" text-anchor="end" fill="#000" class="c">养老金</text>
<text x="157.4" y="753.3" font-size="7.25" text-anchor="end" fill="#ff0000" stroke="#ff0000" class="l">-0.3</text>
<text x="119.3" y="768.88" font-size="7.2" text-anchor="end" fill="#000" class="c">银行</text>
<text x="132.5" y="769.98" font-size="7.25" text-anchor="end" fill="#ff0000" stroke="#ff0000" class="l">-0.8</text>
<text x="119.3" y="785.55" font-size="7.2" text-anchor="end" fill="#000" class="c">投资顾问</text>
<text x="238.6" y="786.66" font-size="7.25" text-anchor="start" fill="#000" stroke="#000" class="l">1.1</text>
<rect x="72.3" y="776.3" width="190.4" height="13.8" fill="none" stroke="#ff0000" stroke-width="0.9" stroke-dasharray="35 2 1.5 2 3 2 1.5 2" stroke-dashoffset="35"/>
<text x="215.7" y="657.74" font-size="8.5" text-anchor="start" fill="#000" stroke="#000" class="l" textLength="16" lengthAdjust="spacingAndGlyphs">VTV</text>
</g>
<g>
<rect x="402.4" y="643.5" width="1.8" height="13.68" fill="#000080"/>
<rect x="402.4" y="676.88" width="8.6" height="13.68" fill="#000080"/>
<rect x="370.9" y="693.57" width="31.5" height="13.68" fill="#000080"/>
<rect x="402.4" y="710.26" width="1.8" height="13.68" fill="#000080"/>
<rect x="402.4" y="726.95" width="4.6" height="13.68" fill="#000080"/>
<rect x="402.4" y="743.64" width="50.7" height="13.68" fill="#000080"/>
<rect x="402.4" y="760.32" width="14.5" height="13.68" fill="#000080"/>
<rect x="357" y="777.01" width="45.4" height="13.68" fill="#000080"/>
<line x1="402.4" y1="642" x2="402.4" y2="792.2" stroke="#747474" stroke-width="1.1"/>
<line x1="400.2" y1="642" x2="402.4" y2="642" stroke="#747474" stroke-width="1.1"/>
<line x1="400.2" y1="658.69" x2="402.4" y2="658.69" stroke="#747474" stroke-width="1.1"/>
<line x1="400.2" y1="675.38" x2="402.4" y2="675.38" stroke="#747474" stroke-width="1.1"/>
<line x1="400.2" y1="692.07" x2="402.4" y2="692.07" stroke="#747474" stroke-width="1.1"/>
<line x1="400.2" y1="708.76" x2="402.4" y2="708.76" stroke="#747474" stroke-width="1.1"/>
<line x1="400.2" y1="725.44" x2="402.4" y2="725.44" stroke="#747474" stroke-width="1.1"/>
<line x1="400.2" y1="742.13" x2="402.4" y2="742.13" stroke="#747474" stroke-width="1.1"/>
<line x1="400.2" y1="758.82" x2="402.4" y2="758.82" stroke="#747474" stroke-width="1.1"/>
<line x1="400.2" y1="775.51" x2="402.4" y2="775.51" stroke="#747474" stroke-width="1.1"/>
<line x1="400.2" y1="792.2" x2="402.4" y2="792.2" stroke="#747474" stroke-width="1.1"/>
<line x1="352.6" y1="792.2" x2="477.1" y2="792.2" stroke="#747474" stroke-width="1.1"/>
<line x1="352.6" y1="792.2" x2="352.6" y2="794.6" stroke="#747474" stroke-width="1.1"/>
<text x="351.5" y="804.08" font-size="7.2" text-anchor="middle" fill="#ff0000" stroke="#ff0000" class="l">-1.0</text>
<line x1="377.5" y1="792.2" x2="377.5" y2="794.6" stroke="#747474" stroke-width="1.1"/>
<text x="376.4" y="804.08" font-size="7.2" text-anchor="middle" fill="#ff0000" stroke="#ff0000" class="l">-0.5</text>
<line x1="402.4" y1="792.2" x2="402.4" y2="794.6" stroke="#747474" stroke-width="1.1"/>
<text x="401.8" y="804.08" font-size="7.2" text-anchor="middle" fill="#000" stroke="#000" class="l">0.0</text>
<line x1="427.3" y1="792.2" x2="427.3" y2="794.6" stroke="#747474" stroke-width="1.1"/>
<text x="426.7" y="804.08" font-size="7.2" text-anchor="middle" fill="#000" stroke="#000" class="l">0.5</text>
<line x1="452.2" y1="792.2" x2="452.2" y2="794.6" stroke="#747474" stroke-width="1.1"/>
<text x="451.6" y="804.08" font-size="7.2" text-anchor="middle" fill="#000" stroke="#000" class="l">1.0</text>
<line x1="477.1" y1="792.2" x2="477.1" y2="794.6" stroke="#747474" stroke-width="1.1"/>
<text x="476.5" y="804.08" font-size="7.2" text-anchor="middle" fill="#000" stroke="#000" class="l">1.5</text>
<text x="346.7" y="652.54" font-size="7.2" text-anchor="end" fill="#000" class="c">信托</text>
<text x="408.7" y="652.64" font-size="7.25" text-anchor="start" fill="#000" stroke="#000" class="l">0.0</text>
<text x="346.7" y="669.23" font-size="7.2" text-anchor="end" fill="#000" class="c">控股公司</text>
<text x="396.2" y="670.33" font-size="7.25" text-anchor="end" fill="#ff0000" stroke="#ff0000" class="l">-0.0</text>
<text x="346.7" y="685.91" font-size="7.2" text-anchor="end" fill="#000" class="c">养老金</text>
<text x="415.8" y="687.02" font-size="7.25" text-anchor="start" fill="#000" stroke="#000" class="l">0.2</text>
<text x="346.7" y="702.6" font-size="7.2" text-anchor="end" fill="#000" class="c">保险公司</text>
<text x="364.7" y="703.71" font-size="7.25" text-anchor="end" fill="#ff0000" stroke="#ff0000" class="l">-0.6</text>
<text x="346.7" y="719.29" font-size="7.2" text-anchor="end" fill="#000" class="c">对冲基金经理</text>
<text x="408.7" y="720.4" font-size="7.25" text-anchor="start" fill="#000" stroke="#000" class="l">0.0</text>
<text x="346.7" y="735.98" font-size="7.2" text-anchor="end" fill="#000" class="c">家族办公室/信托</text>
<text x="411.8" y="737.08" font-size="7.25" text-anchor="start" fill="#000" stroke="#000" class="l">0.1</text>
<text x="346.7" y="752.67" font-size="7.2" text-anchor="end" fill="#000" class="c">券商</text>
<text x="457.9" y="753.77" font-size="7.25" text-anchor="start" fill="#000" stroke="#000" class="l">1.0</text>
<text x="346.7" y="769.36" font-size="7.2" text-anchor="end" fill="#000" class="c">银行</text>
<text x="421.7" y="770.46" font-size="7.25" text-anchor="start" fill="#000" stroke="#000" class="l">0.3</text>
<text x="346.7" y="786.05" font-size="7.2" text-anchor="end" fill="#000" class="c">投资顾问</text>
<text x="350.8" y="787.15" font-size="7.25" text-anchor="end" fill="#ff0000" stroke="#ff0000" class="l">-0.9</text>
<rect x="291.3" y="746.3" width="191.4" height="11" fill="none" stroke="#ff0000" stroke-width="0.9" stroke-dasharray="35 2 1.5 2 3 2 1.5 2" stroke-dashoffset="35"/>
<text x="442.3" y="658.74" font-size="8.5" text-anchor="start" fill="#000" stroke="#000" class="l" textLength="14.4" lengthAdjust="spacingAndGlyphs">VIG</text>
</g>
<g>
<rect x="635.6" y="657.74" width="1.8" height="11.24" fill="#000080"/>
<rect x="637.4" y="685.16" width="1.8" height="11.24" fill="#000080"/>
<rect x="637.4" y="698.87" width="3.5" height="11.24" fill="#000080"/>
<rect x="637.4" y="712.58" width="4.6" height="11.24" fill="#000080"/>
<rect x="637.4" y="726.29" width="2.5" height="11.24" fill="#000080"/>
<rect x="630" y="740" width="7.4" height="11.24" fill="#000080"/>
<rect x="637.4" y="753.71" width="20.6" height="11.24" fill="#000080"/>
<rect x="587.1" y="767.42" width="50.3" height="11.24" fill="#000080"/>
<rect x="637.4" y="781.12" width="27.5" height="11.24" fill="#000080"/>
<line x1="637.4" y1="642.8" x2="637.4" y2="793.6" stroke="#747474" stroke-width="1.1"/>
<line x1="635.2" y1="642.8" x2="637.4" y2="642.8" stroke="#747474" stroke-width="1.1"/>
<line x1="635.2" y1="656.51" x2="637.4" y2="656.51" stroke="#747474" stroke-width="1.1"/>
<line x1="635.2" y1="670.22" x2="637.4" y2="670.22" stroke="#747474" stroke-width="1.1"/>
<line x1="635.2" y1="683.93" x2="637.4" y2="683.93" stroke="#747474" stroke-width="1.1"/>
<line x1="635.2" y1="697.64" x2="637.4" y2="697.64" stroke="#747474" stroke-width="1.1"/>
<line x1="635.2" y1="711.35" x2="637.4" y2="711.35" stroke="#747474" stroke-width="1.1"/>
<line x1="635.2" y1="725.05" x2="637.4" y2="725.05" stroke="#747474" stroke-width="1.1"/>
<line x1="635.2" y1="738.76" x2="637.4" y2="738.76" stroke="#747474" stroke-width="1.1"/>
<line x1="635.2" y1="752.47" x2="637.4" y2="752.47" stroke="#747474" stroke-width="1.1"/>
<line x1="635.2" y1="766.18" x2="637.4" y2="766.18" stroke="#747474" stroke-width="1.1"/>
<line x1="635.2" y1="779.89" x2="637.4" y2="779.89" stroke="#747474" stroke-width="1.1"/>
<line x1="635.2" y1="793.6" x2="637.4" y2="793.6" stroke="#747474" stroke-width="1.1"/>
<line x1="575.35" y1="793.6" x2="699.45" y2="793.6" stroke="#747474" stroke-width="1.1"/>
<line x1="575.35" y1="793.6" x2="575.35" y2="796" stroke="#747474" stroke-width="1.1"/>
<text x="574.25" y="805.18" font-size="7.2" text-anchor="middle" fill="#ff0000" stroke="#ff0000" class="l">-1.0</text>
<line x1="606.38" y1="793.6" x2="606.38" y2="796" stroke="#747474" stroke-width="1.1"/>
<text x="605.27" y="805.18" font-size="7.2" text-anchor="middle" fill="#ff0000" stroke="#ff0000" class="l">-0.5</text>
<line x1="637.4" y1="793.6" x2="637.4" y2="796" stroke="#747474" stroke-width="1.1"/>
<text x="636.8" y="805.18" font-size="7.2" text-anchor="middle" fill="#000" stroke="#000" class="l">0.0</text>
<line x1="668.42" y1="793.6" x2="668.42" y2="796" stroke="#747474" stroke-width="1.1"/>
<text x="667.82" y="805.18" font-size="7.2" text-anchor="middle" fill="#000" stroke="#000" class="l">0.5</text>
<line x1="699.45" y1="793.6" x2="699.45" y2="796" stroke="#747474" stroke-width="1.1"/>
<text x="698.85" y="805.18" font-size="7.2" text-anchor="middle" fill="#000" stroke="#000" class="l">1.0</text>
<text x="568.7" y="651.85" font-size="7.2" text-anchor="end" fill="#000" class="c">捐赠基金</text>
<text x="642.9" y="652.35" font-size="7.25" text-anchor="start" fill="#000" stroke="#000" class="l">0.0</text>
<text x="568.7" y="665.56" font-size="7.2" text-anchor="end" fill="#000" class="c">控股公司</text>
<text x="630.6" y="666.06" font-size="7.25" text-anchor="end" fill="#ff0000" stroke="#ff0000" class="l">-0.0</text>
<text x="568.7" y="679.26" font-size="7.2" text-anchor="end" fill="#000" class="c">信托</text>
<text x="642.9" y="679.77" font-size="7.25" text-anchor="start" fill="#000" stroke="#000" class="l">0.0</text>
<text x="568.7" y="692.97" font-size="7.2" text-anchor="end" fill="#000" class="c">家族办公室/信托</text>
<text x="644.4" y="693.48" font-size="7.25" text-anchor="start" fill="#000" stroke="#000" class="l">0.0</text>
<text x="568.7" y="706.68" font-size="7.2" text-anchor="end" fill="#000" class="c">养老金</text>
<text x="646.4" y="707.19" font-size="7.25" text-anchor="start" fill="#000" stroke="#000" class="l">0.1</text>
<text x="568.7" y="720.39" font-size="7.2" text-anchor="end" fill="#000" class="c">基金会</text>
<text x="647.5" y="720.9" font-size="7.25" text-anchor="start" fill="#000" stroke="#000" class="l">0.1</text>
<text x="568.7" y="734.1" font-size="7.2" text-anchor="end" fill="#000" class="c">券商</text>
<text x="645.4" y="734.6" font-size="7.25" text-anchor="start" fill="#000" stroke="#000" class="l">0.0</text>
<text x="568.7" y="747.81" font-size="7.2" text-anchor="end" fill="#000" class="c">对冲基金经理</text>
<text x="624.5" y="748.31" font-size="7.25" text-anchor="end" fill="#ff0000" stroke="#ff0000" class="l">-0.1</text>
<text x="568.7" y="761.52" font-size="7.2" text-anchor="end" fill="#000" class="c">保险公司</text>
<text x="663.5" y="762.02" font-size="7.25" text-anchor="start" fill="#000" stroke="#000" class="l">0.3</text>
<text x="568.7" y="775.23" font-size="7.2" text-anchor="end" fill="#000" class="c">银行</text>
<text x="581.6" y="775.73" font-size="7.25" text-anchor="end" fill="#ff0000" stroke="#ff0000" class="l">-0.8</text>
<text x="568.7" y="788.94" font-size="7.2" text-anchor="end" fill="#000" class="c">投资顾问</text>
<text x="670.4" y="789.44" font-size="7.25" text-anchor="start" fill="#000" stroke="#000" class="l">0.4</text>
<rect x="522.3" y="779.5" width="190.4" height="12" fill="none" stroke="#ff0000" stroke-width="0.9" stroke-dasharray="35 2 1.5 2 3 2 1.5 2" stroke-dashoffset="35"/>
<text x="666.3" y="659.14" font-size="8.5" text-anchor="start" fill="#000" stroke="#000" class="l" textLength="11.7" lengthAdjust="spacingAndGlyphs">IJH</text>
</g>
<g>
<rect x="165.4" y="880.16" width="3.5" height="10.94" fill="#000080"/>
<rect x="139.9" y="893.83" width="25.5" height="10.94" fill="#000080"/>
<rect x="165.4" y="907.5" width="61.7" height="10.94" fill="#000080"/>
<rect x="165.4" y="921.18" width="8.6" height="10.94" fill="#000080"/>
<rect x="146" y="934.85" width="19.4" height="10.94" fill="#000080"/>
<rect x="134.9" y="948.52" width="30.5" height="10.94" fill="#000080"/>
<rect x="165.4" y="962.19" width="3.5" height="10.94" fill="#000080"/>
<line x1="165.4" y1="824.1" x2="165.4" y2="974.5" stroke="#747474" stroke-width="1.1"/>
<line x1="163.2" y1="824.1" x2="165.4" y2="824.1" stroke="#747474" stroke-width="1.1"/>
<line x1="163.2" y1="837.77" x2="165.4" y2="837.77" stroke="#747474" stroke-width="1.1"/>
<line x1="163.2" y1="851.45" x2="165.4" y2="851.45" stroke="#747474" stroke-width="1.1"/>
<line x1="163.2" y1="865.12" x2="165.4" y2="865.12" stroke="#747474" stroke-width="1.1"/>
<line x1="163.2" y1="878.79" x2="165.4" y2="878.79" stroke="#747474" stroke-width="1.1"/>
<line x1="163.2" y1="892.46" x2="165.4" y2="892.46" stroke="#747474" stroke-width="1.1"/>
<line x1="163.2" y1="906.14" x2="165.4" y2="906.14" stroke="#747474" stroke-width="1.1"/>
<line x1="163.2" y1="919.81" x2="165.4" y2="919.81" stroke="#747474" stroke-width="1.1"/>
<line x1="163.2" y1="933.48" x2="165.4" y2="933.48" stroke="#747474" stroke-width="1.1"/>
<line x1="163.2" y1="947.15" x2="165.4" y2="947.15" stroke="#747474" stroke-width="1.1"/>
<line x1="163.2" y1="960.83" x2="165.4" y2="960.83" stroke="#747474" stroke-width="1.1"/>
<line x1="163.2" y1="974.5" x2="165.4" y2="974.5" stroke="#747474" stroke-width="1.1"/>
<line x1="123.96" y1="974.5" x2="248.28" y2="974.5" stroke="#747474" stroke-width="1.1"/>
<line x1="123.96" y1="974.5" x2="123.96" y2="976.9" stroke="#747474" stroke-width="1.1"/>
<text x="122.86" y="986.48" font-size="7.2" text-anchor="middle" fill="#ff0000" stroke="#ff0000" class="l">-0.4</text>
<line x1="144.68" y1="974.5" x2="144.68" y2="976.9" stroke="#747474" stroke-width="1.1"/>
<text x="143.58" y="986.48" font-size="7.2" text-anchor="middle" fill="#ff0000" stroke="#ff0000" class="l">-0.2</text>
<line x1="165.4" y1="974.5" x2="165.4" y2="976.9" stroke="#747474" stroke-width="1.1"/>
<text x="164.8" y="986.48" font-size="7.2" text-anchor="middle" fill="#000" stroke="#000" class="l">0.0</text>
<line x1="186.12" y1="974.5" x2="186.12" y2="976.9" stroke="#747474" stroke-width="1.1"/>
<text x="185.52" y="986.48" font-size="7.2" text-anchor="middle" fill="#000" stroke="#000" class="l">0.2</text>
<line x1="206.84" y1="974.5" x2="206.84" y2="976.9" stroke="#747474" stroke-width="1.1"/>
<text x="206.24" y="986.48" font-size="7.2" text-anchor="middle" fill="#000" stroke="#000" class="l">0.4</text>
<line x1="227.56" y1="974.5" x2="227.56" y2="976.9" stroke="#747474" stroke-width="1.1"/>
<text x="226.96" y="986.48" font-size="7.2" text-anchor="middle" fill="#000" stroke="#000" class="l">0.6</text>
<line x1="248.28" y1="974.5" x2="248.28" y2="976.9" stroke="#747474" stroke-width="1.1"/>
<text x="247.68" y="986.48" font-size="7.2" text-anchor="middle" fill="#000" stroke="#000" class="l">0.8</text>
<text x="117.7" y="833.13" font-size="7.2" text-anchor="end" fill="#000" class="c">控股公司</text>
<text x="170.9" y="833.63" font-size="7.25" text-anchor="start" fill="#000" stroke="#000" class="l">0.0</text>
<text x="117.7" y="846.8" font-size="7.2" text-anchor="end" fill="#000" class="c">捐赠基金</text>
<text x="170.9" y="847.3" font-size="7.25" text-anchor="start" fill="#000" stroke="#000" class="l">0.0</text>
<text x="117.7" y="860.47" font-size="7.2" text-anchor="end" fill="#000" class="c">家族办公室/信托</text>
<text x="170.9" y="860.98" font-size="7.25" text-anchor="start" fill="#000" stroke="#000" class="l">0.0</text>
<text x="117.7" y="874.15" font-size="7.2" text-anchor="end" fill="#000" class="c">信托</text>
<text x="170.9" y="874.65" font-size="7.25" text-anchor="start" fill="#000" stroke="#000" class="l">0.0</text>
<text x="117.7" y="887.82" font-size="7.2" text-anchor="end" fill="#000" class="c">基金会</text>
<text x="174.4" y="888.32" font-size="7.25" text-anchor="start" fill="#000" stroke="#000" class="l">0.0</text>
<text x="117.7" y="901.49" font-size="7.2" text-anchor="end" fill="#000" class="c">保险公司</text>
<text x="134.4" y="902" font-size="7.25" text-anchor="end" fill="#ff0000" stroke="#ff0000" class="l">-0.2</text>
<text x="117.7" y="915.16" font-size="7.2" text-anchor="end" fill="#000" class="c">对冲基金经理</text>
<text x="232.6" y="915.67" font-size="7.25" text-anchor="start" fill="#000" stroke="#000" class="l">0.6</text>
<text x="117.7" y="928.84" font-size="7.2" text-anchor="end" fill="#000" class="c">券商</text>
<text x="179.5" y="929.34" font-size="7.25" text-anchor="start" fill="#000" stroke="#000" class="l">0.1</text>
<text x="117.7" y="942.51" font-size="7.2" text-anchor="end" fill="#000" class="c">养老金</text>
<text x="140.5" y="943.01" font-size="7.25" text-anchor="end" fill="#ff0000" stroke="#ff0000" class="l">-0.2</text>
<text x="117.7" y="956.18" font-size="7.2" text-anchor="end" fill="#000" class="c">银行</text>
<text x="129.4" y="956.69" font-size="7.25" text-anchor="end" fill="#ff0000" stroke="#ff0000" class="l">-0.3</text>
<text x="117.7" y="969.86" font-size="7.2" text-anchor="end" fill="#000" class="c">投资顾问</text>
<text x="174.4" y="970.36" font-size="7.25" text-anchor="start" fill="#000" stroke="#000" class="l">0.0</text>
<rect x="64" y="906.4" width="191.7" height="12.2" fill="none" stroke="#ff0000" stroke-width="0.9" stroke-dasharray="35 2 1.5 2 3 2 1.5 2" stroke-dashoffset="35"/>
<text x="212.7" y="840.74" font-size="8.5" text-anchor="start" fill="#000" stroke="#000" class="l" textLength="10.6" lengthAdjust="spacingAndGlyphs">IJR</text>
</g>
<g>
<rect x="400.9" y="892.05" width="13.5" height="11.2" fill="#000080"/>
<rect x="375.8" y="905.71" width="38.6" height="11.2" fill="#000080"/>
<rect x="397.9" y="919.38" width="16.5" height="11.2" fill="#000080"/>
<rect x="414.4" y="933.04" width="2.5" height="11.2" fill="#000080"/>
<rect x="414.4" y="946.7" width="6.6" height="11.2" fill="#000080"/>
<rect x="414.4" y="960.37" width="57.7" height="11.2" fill="#000080"/>
<line x1="414.4" y1="822.5" x2="414.4" y2="972.3" stroke="#747474" stroke-width="1.1"/>
<line x1="412.2" y1="822.5" x2="414.4" y2="822.5" stroke="#747474" stroke-width="1.1"/>
<line x1="412.2" y1="836.12" x2="414.4" y2="836.12" stroke="#747474" stroke-width="1.1"/>
<line x1="412.2" y1="849.74" x2="414.4" y2="849.74" stroke="#747474" stroke-width="1.1"/>
<line x1="412.2" y1="863.35" x2="414.4" y2="863.35" stroke="#747474" stroke-width="1.1"/>
<line x1="412.2" y1="876.97" x2="414.4" y2="876.97" stroke="#747474" stroke-width="1.1"/>
<line x1="412.2" y1="890.59" x2="414.4" y2="890.59" stroke="#747474" stroke-width="1.1"/>
<line x1="412.2" y1="904.21" x2="414.4" y2="904.21" stroke="#747474" stroke-width="1.1"/>
<line x1="412.2" y1="917.83" x2="414.4" y2="917.83" stroke="#747474" stroke-width="1.1"/>
<line x1="412.2" y1="931.45" x2="414.4" y2="931.45" stroke="#747474" stroke-width="1.1"/>
<line x1="412.2" y1="945.06" x2="414.4" y2="945.06" stroke="#747474" stroke-width="1.1"/>
<line x1="412.2" y1="958.68" x2="414.4" y2="958.68" stroke="#747474" stroke-width="1.1"/>
<line x1="412.2" y1="972.3" x2="414.4" y2="972.3" stroke="#747474" stroke-width="1.1"/>
<line x1="352.15" y1="972.3" x2="476.65" y2="972.3" stroke="#747474" stroke-width="1.1"/>
<line x1="352.15" y1="972.3" x2="352.15" y2="974.7" stroke="#747474" stroke-width="1.1"/>
<text x="351.05" y="984.28" font-size="7.2" text-anchor="middle" fill="#ff0000" stroke="#ff0000" class="l">-6.0</text>
<line x1="372.9" y1="972.3" x2="372.9" y2="974.7" stroke="#747474" stroke-width="1.1"/>
<text x="371.8" y="984.28" font-size="7.2" text-anchor="middle" fill="#ff0000" stroke="#ff0000" class="l">-4.0</text>
<line x1="393.65" y1="972.3" x2="393.65" y2="974.7" stroke="#747474" stroke-width="1.1"/>
<text x="392.55" y="984.28" font-size="7.2" text-anchor="middle" fill="#ff0000" stroke="#ff0000" class="l">-2.0</text>
<line x1="414.4" y1="972.3" x2="414.4" y2="974.7" stroke="#747474" stroke-width="1.1"/>
<text x="413.8" y="984.28" font-size="7.2" text-anchor="middle" fill="#000" stroke="#000" class="l">0.0</text>
<line x1="435.15" y1="972.3" x2="435.15" y2="974.7" stroke="#747474" stroke-width="1.1"/>
<text x="434.55" y="984.28" font-size="7.2" text-anchor="middle" fill="#000" stroke="#000" class="l">2.0</text>
<line x1="455.9" y1="972.3" x2="455.9" y2="974.7" stroke="#747474" stroke-width="1.1"/>
<text x="455.3" y="984.28" font-size="7.2" text-anchor="middle" fill="#000" stroke="#000" class="l">4.0</text>
<line x1="476.65" y1="972.3" x2="476.65" y2="974.7" stroke="#747474" stroke-width="1.1"/>
<text x="476.05" y="984.28" font-size="7.2" text-anchor="middle" fill="#000" stroke="#000" class="l">6.0</text>
<text x="345.7" y="831.52" font-size="7.2" text-anchor="end" fill="#000" class="c">企业</text>
<text x="408.9" y="832.03" font-size="7.25" text-anchor="end" fill="#ff0000" stroke="#ff0000" class="l">-0.0</text>
<text x="345.7" y="845.19" font-size="7.2" text-anchor="end" fill="#000" class="c">捐赠基金</text>
<text x="419.9" y="845.69" font-size="7.25" text-anchor="start" fill="#000" stroke="#000" class="l">0.0</text>
<text x="345.7" y="858.85" font-size="7.2" text-anchor="end" fill="#000" class="c">信托</text>
<text x="408.9" y="859.35" font-size="7.25" text-anchor="end" fill="#ff0000" stroke="#ff0000" class="l">-0.0</text>
<text x="345.7" y="872.51" font-size="7.2" text-anchor="end" fill="#000" class="c">家族办公室/信托</text>
<text x="408.9" y="873.02" font-size="7.25" text-anchor="end" fill="#ff0000" stroke="#ff0000" class="l">-0.0</text>
<text x="345.7" y="886.18" font-size="7.2" text-anchor="end" fill="#000" class="c">控股公司</text>
<text x="419.9" y="886.68" font-size="7.25" text-anchor="start" fill="#000" stroke="#000" class="l">0.1</text>
<text x="345.7" y="899.84" font-size="7.2" text-anchor="end" fill="#000" class="c">保险公司</text>
<text x="395.4" y="900.35" font-size="7.25" text-anchor="end" fill="#ff0000" stroke="#ff0000" class="l">-1.3</text>
<text x="345.7" y="913.51" font-size="7.2" text-anchor="end" fill="#000" class="c">养老金</text>
<text x="370.3" y="914.01" font-size="7.25" text-anchor="end" fill="#ff0000" stroke="#ff0000" class="l">-3.6</text>
<text x="345.7" y="927.17" font-size="7.2" text-anchor="end" fill="#000" class="c">券商</text>
<text x="392.4" y="927.67" font-size="7.25" text-anchor="end" fill="#ff0000" stroke="#ff0000" class="l">-1.5</text>
<text x="345.7" y="940.83" font-size="7.2" text-anchor="end" fill="#000" class="c">对冲基金经理</text>
<text x="422.4" y="941.34" font-size="7.25" text-anchor="start" fill="#000" stroke="#000" class="l">0.2</text>
<text x="345.7" y="954.5" font-size="7.2" text-anchor="end" fill="#000" class="c">银行</text>
<text x="426.5" y="955" font-size="7.25" text-anchor="start" fill="#000" stroke="#000" class="l">0.6</text>
<text x="345.7" y="968.16" font-size="7.2" text-anchor="end" fill="#000" class="c">投资顾问</text>
<text x="477.6" y="968.66" font-size="7.25" text-anchor="start" fill="#000" stroke="#000" class="l">5.5</text>
<rect x="300.3" y="959.5" width="190.4" height="12" fill="none" stroke="#ff0000" stroke-width="0.9" stroke-dasharray="35 2 1.5 2 3 2 1.5 2" stroke-dashoffset="35"/>
<text x="444.9" y="839.94" font-size="8.5" text-anchor="start" fill="#000" stroke="#000" class="l" textLength="19.3" lengthAdjust="spacingAndGlyphs">IWM</text>
</g>
<g>
<rect x="621.9" y="901.88" width="7.1" height="13.05" fill="#000080"/>
<rect x="621.9" y="916.88" width="7.1" height="13.05" fill="#000080"/>
<rect x="622.9" y="931.88" width="6.1" height="13.05" fill="#000080"/>
<rect x="590.9" y="946.88" width="38.1" height="13.05" fill="#000080"/>
<rect x="629" y="961.88" width="57" height="13.05" fill="#000080"/>
<line x1="629" y1="825.9" x2="629" y2="975.9" stroke="#747474" stroke-width="1.1"/>
<line x1="626.8" y1="825.9" x2="629" y2="825.9" stroke="#747474" stroke-width="1.1"/>
<line x1="626.8" y1="840.9" x2="629" y2="840.9" stroke="#747474" stroke-width="1.1"/>
<line x1="626.8" y1="855.9" x2="629" y2="855.9" stroke="#747474" stroke-width="1.1"/>
<line x1="626.8" y1="870.9" x2="629" y2="870.9" stroke="#747474" stroke-width="1.1"/>
<line x1="626.8" y1="885.9" x2="629" y2="885.9" stroke="#747474" stroke-width="1.1"/>
<line x1="626.8" y1="900.9" x2="629" y2="900.9" stroke="#747474" stroke-width="1.1"/>
<line x1="626.8" y1="915.9" x2="629" y2="915.9" stroke="#747474" stroke-width="1.1"/>
<line x1="626.8" y1="930.9" x2="629" y2="930.9" stroke="#747474" stroke-width="1.1"/>
<line x1="626.8" y1="945.9" x2="629" y2="945.9" stroke="#747474" stroke-width="1.1"/>
<line x1="626.8" y1="960.9" x2="629" y2="960.9" stroke="#747474" stroke-width="1.1"/>
<line x1="626.8" y1="975.9" x2="629" y2="975.9" stroke="#747474" stroke-width="1.1"/>
<line x1="575.45" y1="975.9" x2="700.4" y2="975.9" stroke="#747474" stroke-width="1.1"/>
<line x1="575.45" y1="975.9" x2="575.45" y2="978.3" stroke="#747474" stroke-width="1.1"/>
<text x="574.35" y="987.28" font-size="7.2" text-anchor="middle" fill="#ff0000" stroke="#ff0000" class="l">-3.0</text>
<line x1="593.3" y1="975.9" x2="593.3" y2="978.3" stroke="#747474" stroke-width="1.1"/>
<text x="592.2" y="987.28" font-size="7.2" text-anchor="middle" fill="#ff0000" stroke="#ff0000" class="l">-2.0</text>
<line x1="611.15" y1="975.9" x2="611.15" y2="978.3" stroke="#747474" stroke-width="1.1"/>
<text x="610.05" y="987.28" font-size="7.2" text-anchor="middle" fill="#ff0000" stroke="#ff0000" class="l">-1.0</text>
<line x1="629" y1="975.9" x2="629" y2="978.3" stroke="#747474" stroke-width="1.1"/>
<text x="628.4" y="987.28" font-size="7.2" text-anchor="middle" fill="#000" stroke="#000" class="l">0.0</text>
<line x1="646.85" y1="975.9" x2="646.85" y2="978.3" stroke="#747474" stroke-width="1.1"/>
<text x="646.25" y="987.28" font-size="7.2" text-anchor="middle" fill="#000" stroke="#000" class="l">1.0</text>
<line x1="664.7" y1="975.9" x2="664.7" y2="978.3" stroke="#747474" stroke-width="1.1"/>
<text x="664.1" y="987.28" font-size="7.2" text-anchor="middle" fill="#000" stroke="#000" class="l">2.0</text>
<line x1="682.55" y1="975.9" x2="682.55" y2="978.3" stroke="#747474" stroke-width="1.1"/>
<text x="681.95" y="987.28" font-size="7.2" text-anchor="middle" fill="#000" stroke="#000" class="l">3.0</text>
<line x1="700.4" y1="975.9" x2="700.4" y2="978.3" stroke="#747474" stroke-width="1.1"/>
<text x="699.8" y="987.28" font-size="7.2" text-anchor="middle" fill="#000" stroke="#000" class="l">4.0</text>
<text x="569.3" y="835.59" font-size="7.2" text-anchor="end" fill="#000" class="c">信托</text>
<text x="634.5" y="836.1" font-size="7.25" text-anchor="start" fill="#000" stroke="#000" class="l">0.0</text>
<text x="569.3" y="850.59" font-size="7.2" text-anchor="end" fill="#000" class="c">捐赠基金</text>
<text x="634.5" y="851.1" font-size="7.25" text-anchor="start" fill="#000" stroke="#000" class="l">0.0</text>
<text x="569.3" y="865.59" font-size="7.2" text-anchor="end" fill="#000" class="c">控股公司</text>
<text x="623.5" y="866.1" font-size="7.25" text-anchor="end" fill="#ff0000" stroke="#ff0000" class="l">-0.0</text>
<text x="569.3" y="880.59" font-size="7.2" text-anchor="end" fill="#000" class="c">家族办公室/信托</text>
<text x="623.5" y="881.1" font-size="7.25" text-anchor="end" fill="#ff0000" stroke="#ff0000" class="l">-0.0</text>
<text x="569.3" y="895.59" font-size="7.2" text-anchor="end" fill="#000" class="c">养老金</text>
<text x="634.5" y="896.1" font-size="7.25" text-anchor="start" fill="#000" stroke="#000" class="l">0.0</text>
<text x="569.3" y="910.59" font-size="7.2" text-anchor="end" fill="#000" class="c">保险公司</text>
<text x="616.4" y="911.1" font-size="7.25" text-anchor="end" fill="#ff0000" stroke="#ff0000" class="l">-0.4</text>
<text x="569.3" y="925.59" font-size="7.2" text-anchor="end" fill="#000" class="c">对冲基金经理</text>
<text x="616.4" y="926.1" font-size="7.25" text-anchor="end" fill="#ff0000" stroke="#ff0000" class="l">-0.4</text>
<text x="569.3" y="940.59" font-size="7.2" text-anchor="end" fill="#000" class="c">券商</text>
<text x="617.4" y="941.1" font-size="7.25" text-anchor="end" fill="#ff0000" stroke="#ff0000" class="l">-0.3</text>
<text x="569.3" y="955.59" font-size="7.2" text-anchor="end" fill="#000" class="c">银行</text>
<text x="585.4" y="956.1" font-size="7.25" text-anchor="end" fill="#ff0000" stroke="#ff0000" class="l">-2.1</text>
<text x="569.3" y="970.59" font-size="7.2" text-anchor="end" fill="#000" class="c">投资顾问</text>
<text x="691.5" y="971.1" font-size="7.25" text-anchor="start" fill="#000" stroke="#000" class="l">3.2</text>
<rect x="521" y="961.3" width="191.4" height="12.2" fill="none" stroke="#ff0000" stroke-width="0.9" stroke-dasharray="35 2 1.5 2 3 2 1.5 2" stroke-dashoffset="35"/>
<text x="664.3" y="852.74" font-size="8.5" text-anchor="start" fill="#000" stroke="#000" class="l" textLength="17.7" lengthAdjust="spacingAndGlyphs">IWD</text>
</g>
</svg>
</body>
</html>
